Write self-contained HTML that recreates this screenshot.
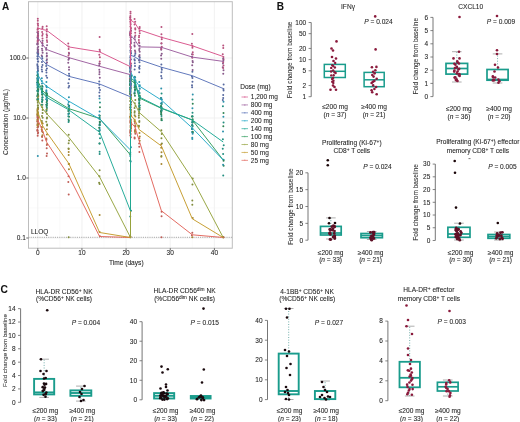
<!DOCTYPE html>
<html><head><meta charset="utf-8"><style>
html,body{margin:0;padding:0;background:#fff;}
svg{display:block;font-family:"Liberation Sans", sans-serif;filter:blur(0.35px);}
text{stroke:#333;stroke-width:0.08px;}
</style></head><body>
<svg width="520" height="422" viewBox="0 0 520 422">
<rect x="28.5" y="1.7" width="203.8" height="246.5" fill="#fff"/>
<line x1="59.88" y1="1.70" x2="59.88" y2="248.20" stroke="#f6f6f6" stroke-width="0.6" />
<line x1="104.02" y1="1.70" x2="104.02" y2="248.20" stroke="#f6f6f6" stroke-width="0.6" />
<line x1="148.18" y1="1.70" x2="148.18" y2="248.20" stroke="#f6f6f6" stroke-width="0.6" />
<line x1="192.32" y1="1.70" x2="192.32" y2="248.20" stroke="#f6f6f6" stroke-width="0.6" />
<line x1="28.50" y1="208.00" x2="232.30" y2="208.00" stroke="#f6f6f6" stroke-width="0.6" />
<line x1="28.50" y1="148.00" x2="232.30" y2="148.00" stroke="#f6f6f6" stroke-width="0.6" />
<line x1="28.50" y1="88.00" x2="232.30" y2="88.00" stroke="#f6f6f6" stroke-width="0.6" />
<line x1="28.50" y1="28.00" x2="232.30" y2="28.00" stroke="#f6f6f6" stroke-width="0.6" />
<line x1="37.80" y1="1.70" x2="37.80" y2="248.20" stroke="#efefef" stroke-width="0.9" />
<line x1="81.95" y1="1.70" x2="81.95" y2="248.20" stroke="#efefef" stroke-width="0.9" />
<line x1="126.10" y1="1.70" x2="126.10" y2="248.20" stroke="#efefef" stroke-width="0.9" />
<line x1="170.25" y1="1.70" x2="170.25" y2="248.20" stroke="#efefef" stroke-width="0.9" />
<line x1="214.40" y1="1.70" x2="214.40" y2="248.20" stroke="#efefef" stroke-width="0.9" />
<line x1="28.50" y1="238.00" x2="232.30" y2="238.00" stroke="#efefef" stroke-width="0.9" />
<line x1="28.50" y1="178.00" x2="232.30" y2="178.00" stroke="#efefef" stroke-width="0.9" />
<line x1="28.50" y1="118.00" x2="232.30" y2="118.00" stroke="#efefef" stroke-width="0.9" />
<line x1="28.50" y1="58.00" x2="232.30" y2="58.00" stroke="#efefef" stroke-width="0.9" />
<line x1="28.50" y1="237.30" x2="232.30" y2="237.30" stroke="#888" stroke-width="0.8" stroke-dasharray="1,1.2"/>
<text x="31.0" y="233.5" font-size="6.5" text-anchor="start" fill="#222" >LLOQ</text>
<circle cx="161.22" cy="88.51" r="1.0" fill="#2c92ab"/>
<circle cx="130.93" cy="147.22" r="1.0" fill="#2c92ab"/>
<circle cx="139.59" cy="31.09" r="1.0" fill="#b8527d"/>
<circle cx="135.32" cy="35.55" r="1.0" fill="#b8527d"/>
<circle cx="37.88" cy="69.02" r="1.0" fill="#56689e"/>
<circle cx="135.19" cy="86.51" r="1.0" fill="#2c92ab"/>
<circle cx="42.37" cy="28.22" r="1.0" fill="#b8527d"/>
<circle cx="99.37" cy="92.42" r="1.0" fill="#56689e"/>
<circle cx="69.16" cy="79.28" r="1.0" fill="#56689e"/>
<circle cx="139.34" cy="100.38" r="1.0" fill="#308453"/>
<circle cx="139.84" cy="98.84" r="1.0" fill="#2c92ab"/>
<circle cx="130.63" cy="79.90" r="1.0" fill="#895a8b"/>
<circle cx="191.87" cy="116.55" r="1.0" fill="#308453"/>
<circle cx="134.46" cy="45.28" r="1.0" fill="#895a8b"/>
<circle cx="130.31" cy="89.13" r="1.0" fill="#308453"/>
<circle cx="223.45" cy="89.07" r="1.0" fill="#56689e"/>
<circle cx="135.26" cy="126.36" r="1.0" fill="#a78731"/>
<circle cx="42.69" cy="33.98" r="1.0" fill="#b8527d"/>
<circle cx="38.25" cy="99.09" r="1.0" fill="#238f81"/>
<circle cx="130.04" cy="79.04" r="1.0" fill="#2c92ab"/>
<circle cx="131.00" cy="65.40" r="1.0" fill="#56689e"/>
<circle cx="37.77" cy="102.72" r="1.0" fill="#818c3e"/>
<circle cx="99.44" cy="125.35" r="1.0" fill="#2c92ab"/>
<circle cx="138.99" cy="60.31" r="1.0" fill="#56689e"/>
<circle cx="130.26" cy="21.59" r="1.0" fill="#b8527d"/>
<circle cx="192.32" cy="34.00" r="1.0" fill="#b8527d"/>
<circle cx="41.78" cy="127.55" r="1.0" fill="#bf5e57"/>
<circle cx="69.03" cy="69.87" r="1.0" fill="#895a8b"/>
<circle cx="139.32" cy="56.57" r="1.0" fill="#56689e"/>
<circle cx="161.42" cy="164.00" r="1.0" fill="#a78731"/>
<circle cx="134.52" cy="93.49" r="1.0" fill="#238f81"/>
<circle cx="130.48" cy="90.16" r="1.0" fill="#308453"/>
<circle cx="46.63" cy="106.72" r="1.0" fill="#238f81"/>
<circle cx="130.21" cy="93.61" r="1.0" fill="#308453"/>
<circle cx="223.20" cy="94.99" r="1.0" fill="#56689e"/>
<circle cx="222.86" cy="139.14" r="1.0" fill="#238f81"/>
<circle cx="42.59" cy="100.07" r="1.0" fill="#308453"/>
<circle cx="161.42" cy="237.30" r="1.0" fill="#bf5e57"/>
<circle cx="130.22" cy="93.83" r="1.0" fill="#238f81"/>
<circle cx="134.85" cy="131.06" r="1.0" fill="#bf5e57"/>
<circle cx="46.96" cy="107.98" r="1.0" fill="#308453"/>
<circle cx="46.57" cy="60.41" r="1.0" fill="#56689e"/>
<circle cx="99.37" cy="74.34" r="1.0" fill="#895a8b"/>
<circle cx="99.36" cy="130.97" r="1.0" fill="#308453"/>
<circle cx="99.27" cy="81.51" r="1.0" fill="#56689e"/>
<circle cx="42.37" cy="97.57" r="1.0" fill="#308453"/>
<circle cx="134.63" cy="69.39" r="1.0" fill="#56689e"/>
<circle cx="130.20" cy="93.17" r="1.0" fill="#56689e"/>
<circle cx="161.63" cy="109.25" r="1.0" fill="#308453"/>
<circle cx="46.35" cy="90.30" r="1.0" fill="#2c92ab"/>
<circle cx="99.76" cy="121.73" r="1.0" fill="#308453"/>
<circle cx="222.84" cy="99.95" r="1.0" fill="#56689e"/>
<circle cx="68.70" cy="149.00" r="1.0" fill="#a78731"/>
<circle cx="139.17" cy="49.97" r="1.0" fill="#895a8b"/>
<circle cx="192.49" cy="121.63" r="1.0" fill="#2c92ab"/>
<circle cx="192.26" cy="137.64" r="1.0" fill="#2c92ab"/>
<circle cx="130.92" cy="119.97" r="1.0" fill="#a78731"/>
<circle cx="69.10" cy="105.77" r="1.0" fill="#308453"/>
<circle cx="99.94" cy="102.44" r="1.0" fill="#238f81"/>
<circle cx="37.71" cy="43.77" r="1.0" fill="#b8527d"/>
<circle cx="42.24" cy="91.47" r="1.0" fill="#2c92ab"/>
<circle cx="161.22" cy="49.68" r="1.0" fill="#895a8b"/>
<circle cx="37.54" cy="82.59" r="1.0" fill="#308453"/>
<circle cx="38.10" cy="108.02" r="1.0" fill="#a78731"/>
<circle cx="99.43" cy="96.01" r="1.0" fill="#56689e"/>
<circle cx="37.66" cy="115.93" r="1.0" fill="#a78731"/>
<circle cx="37.53" cy="29.87" r="1.0" fill="#b8527d"/>
<circle cx="134.78" cy="60.51" r="1.0" fill="#56689e"/>
<circle cx="130.80" cy="30.94" r="1.0" fill="#b8527d"/>
<circle cx="192.52" cy="112.76" r="1.0" fill="#238f81"/>
<circle cx="99.31" cy="69.81" r="1.0" fill="#895a8b"/>
<circle cx="99.61" cy="151.80" r="1.0" fill="#238f81"/>
<circle cx="38.13" cy="123.22" r="1.0" fill="#bf5e57"/>
<circle cx="135.33" cy="53.81" r="1.0" fill="#56689e"/>
<circle cx="37.80" cy="94.58" r="1.0" fill="#308453"/>
<circle cx="139.41" cy="151.99" r="1.0" fill="#bf5e57"/>
<circle cx="223.08" cy="237.30" r="1.0" fill="#818c3e"/>
<circle cx="42.41" cy="135.37" r="1.0" fill="#a78731"/>
<circle cx="161.16" cy="76.01" r="1.0" fill="#56689e"/>
<circle cx="38.04" cy="76.77" r="1.0" fill="#308453"/>
<circle cx="130.82" cy="112.44" r="1.0" fill="#818c3e"/>
<circle cx="46.95" cy="59.35" r="1.0" fill="#895a8b"/>
<circle cx="161.42" cy="34.28" r="1.0" fill="#b8527d"/>
<circle cx="192.43" cy="47.86" r="1.0" fill="#b8527d"/>
<circle cx="46.27" cy="75.63" r="1.0" fill="#56689e"/>
<circle cx="139.73" cy="33.15" r="1.0" fill="#b8527d"/>
<circle cx="38.06" cy="91.78" r="1.0" fill="#238f81"/>
<circle cx="37.86" cy="61.51" r="1.0" fill="#56689e"/>
<circle cx="37.85" cy="71.16" r="1.0" fill="#2c92ab"/>
<circle cx="37.81" cy="112.02" r="1.0" fill="#818c3e"/>
<circle cx="46.76" cy="53.26" r="1.0" fill="#895a8b"/>
<circle cx="42.60" cy="86.64" r="1.0" fill="#2c92ab"/>
<circle cx="192.32" cy="204.80" r="1.0" fill="#818c3e"/>
<circle cx="46.58" cy="93.87" r="1.0" fill="#2c92ab"/>
<circle cx="130.24" cy="69.75" r="1.0" fill="#2c92ab"/>
<circle cx="46.41" cy="81.95" r="1.0" fill="#2c92ab"/>
<circle cx="139.74" cy="96.34" r="1.0" fill="#308453"/>
<circle cx="130.63" cy="88.32" r="1.0" fill="#238f81"/>
<circle cx="130.84" cy="27.89" r="1.0" fill="#b8527d"/>
<circle cx="130.93" cy="102.57" r="1.0" fill="#818c3e"/>
<circle cx="223.50" cy="112.97" r="1.0" fill="#308453"/>
<circle cx="135.31" cy="51.97" r="1.0" fill="#895a8b"/>
<circle cx="139.28" cy="56.36" r="1.0" fill="#895a8b"/>
<circle cx="38.17" cy="117.13" r="1.0" fill="#a78731"/>
<circle cx="42.15" cy="71.47" r="1.0" fill="#56689e"/>
<circle cx="139.48" cy="62.27" r="1.0" fill="#56689e"/>
<circle cx="139.19" cy="105.16" r="1.0" fill="#308453"/>
<circle cx="130.03" cy="71.53" r="1.0" fill="#2c92ab"/>
<circle cx="99.99" cy="138.26" r="1.0" fill="#238f81"/>
<circle cx="134.62" cy="92.21" r="1.0" fill="#2c92ab"/>
<circle cx="223.23" cy="45.50" r="1.0" fill="#b8527d"/>
<circle cx="130.91" cy="101.66" r="1.0" fill="#56689e"/>
<circle cx="192.46" cy="184.61" r="1.0" fill="#818c3e"/>
<circle cx="135.24" cy="125.31" r="1.0" fill="#a78731"/>
<circle cx="134.77" cy="103.26" r="1.0" fill="#818c3e"/>
<circle cx="130.40" cy="76.61" r="1.0" fill="#308453"/>
<circle cx="161.30" cy="106.43" r="1.0" fill="#2c92ab"/>
<circle cx="134.63" cy="115.32" r="1.0" fill="#818c3e"/>
<circle cx="130.27" cy="81.32" r="1.0" fill="#308453"/>
<circle cx="161.51" cy="118.40" r="1.0" fill="#308453"/>
<circle cx="68.70" cy="194.50" r="1.0" fill="#bf5e57"/>
<circle cx="223.71" cy="145.14" r="1.0" fill="#238f81"/>
<circle cx="223.36" cy="56.94" r="1.0" fill="#b8527d"/>
<circle cx="42.30" cy="140.58" r="1.0" fill="#bf5e57"/>
<circle cx="37.46" cy="78.49" r="1.0" fill="#308453"/>
<circle cx="69.02" cy="73.76" r="1.0" fill="#56689e"/>
<circle cx="134.66" cy="138.57" r="1.0" fill="#bf5e57"/>
<circle cx="139.69" cy="107.76" r="1.0" fill="#308453"/>
<circle cx="130.78" cy="59.45" r="1.0" fill="#56689e"/>
<circle cx="37.74" cy="115.00" r="1.0" fill="#818c3e"/>
<circle cx="42.23" cy="42.60" r="1.0" fill="#b8527d"/>
<circle cx="99.83" cy="77.87" r="1.0" fill="#895a8b"/>
<circle cx="130.12" cy="87.67" r="1.0" fill="#238f81"/>
<circle cx="161.78" cy="37.38" r="1.0" fill="#b8527d"/>
<circle cx="130.94" cy="83.81" r="1.0" fill="#2c92ab"/>
<circle cx="47.13" cy="77.69" r="1.0" fill="#56689e"/>
<circle cx="68.49" cy="176.16" r="1.0" fill="#bf5e57"/>
<circle cx="68.24" cy="62.82" r="1.0" fill="#895a8b"/>
<circle cx="38.30" cy="89.99" r="1.0" fill="#2c92ab"/>
<circle cx="99.74" cy="61.52" r="1.0" fill="#b8527d"/>
<circle cx="135.01" cy="66.09" r="1.0" fill="#56689e"/>
<circle cx="139.84" cy="105.60" r="1.0" fill="#238f81"/>
<circle cx="222.76" cy="54.30" r="1.0" fill="#b8527d"/>
<circle cx="135.38" cy="116.59" r="1.0" fill="#a78731"/>
<circle cx="223.62" cy="84.60" r="1.0" fill="#56689e"/>
<circle cx="161.25" cy="58.80" r="1.0" fill="#895a8b"/>
<circle cx="130.28" cy="154.15" r="1.0" fill="#308453"/>
<circle cx="68.70" cy="237.30" r="1.0" fill="#818c3e"/>
<circle cx="161.55" cy="93.57" r="1.0" fill="#238f81"/>
<circle cx="47.08" cy="125.41" r="1.0" fill="#818c3e"/>
<circle cx="130.28" cy="57.62" r="1.0" fill="#56689e"/>
<circle cx="160.97" cy="106.60" r="1.0" fill="#238f81"/>
<circle cx="46.51" cy="72.48" r="1.0" fill="#56689e"/>
<circle cx="134.76" cy="76.81" r="1.0" fill="#238f81"/>
<circle cx="46.19" cy="95.77" r="1.0" fill="#238f81"/>
<circle cx="223.39" cy="116.74" r="1.0" fill="#2c92ab"/>
<circle cx="41.92" cy="131.07" r="1.0" fill="#bf5e57"/>
<circle cx="130.67" cy="73.89" r="1.0" fill="#238f81"/>
<circle cx="130.96" cy="43.30" r="1.0" fill="#895a8b"/>
<circle cx="130.72" cy="79.00" r="1.0" fill="#2c92ab"/>
<circle cx="68.70" cy="152.00" r="1.0" fill="#a78731"/>
<circle cx="192.62" cy="70.07" r="1.0" fill="#895a8b"/>
<circle cx="46.70" cy="26.13" r="1.0" fill="#b8527d"/>
<circle cx="37.78" cy="124.76" r="1.0" fill="#a78731"/>
<circle cx="130.70" cy="77.93" r="1.0" fill="#308453"/>
<circle cx="38.00" cy="33.27" r="1.0" fill="#b8527d"/>
<circle cx="161.86" cy="99.47" r="1.0" fill="#2c92ab"/>
<circle cx="42.59" cy="112.90" r="1.0" fill="#818c3e"/>
<circle cx="46.90" cy="129.28" r="1.0" fill="#a78731"/>
<circle cx="135.38" cy="89.23" r="1.0" fill="#2c92ab"/>
<circle cx="130.78" cy="133.94" r="1.0" fill="#bf5e57"/>
<circle cx="192.48" cy="99.44" r="1.0" fill="#238f81"/>
<circle cx="68.83" cy="120.72" r="1.0" fill="#308453"/>
<circle cx="130.80" cy="125.94" r="1.0" fill="#a78731"/>
<circle cx="130.44" cy="85.85" r="1.0" fill="#2c92ab"/>
<circle cx="161.43" cy="138.34" r="1.0" fill="#818c3e"/>
<circle cx="139.54" cy="92.95" r="1.0" fill="#238f81"/>
<circle cx="130.31" cy="77.76" r="1.0" fill="#238f81"/>
<circle cx="130.60" cy="68.67" r="1.0" fill="#2c92ab"/>
<circle cx="134.52" cy="42.71" r="1.0" fill="#895a8b"/>
<circle cx="130.71" cy="161.52" r="1.0" fill="#2c92ab"/>
<circle cx="130.22" cy="160.86" r="1.0" fill="#308453"/>
<circle cx="37.73" cy="28.14" r="1.0" fill="#b8527d"/>
<circle cx="134.45" cy="59.23" r="1.0" fill="#56689e"/>
<circle cx="161.34" cy="156.77" r="1.0" fill="#a78731"/>
<circle cx="68.91" cy="97.16" r="1.0" fill="#2c92ab"/>
<circle cx="130.25" cy="216.41" r="1.0" fill="#238f81"/>
<circle cx="41.86" cy="126.99" r="1.0" fill="#a78731"/>
<circle cx="161.35" cy="130.19" r="1.0" fill="#818c3e"/>
<circle cx="68.58" cy="121.93" r="1.0" fill="#238f81"/>
<circle cx="130.09" cy="66.50" r="1.0" fill="#2c92ab"/>
<circle cx="134.67" cy="111.13" r="1.0" fill="#818c3e"/>
<circle cx="38.24" cy="46.76" r="1.0" fill="#895a8b"/>
<circle cx="99.94" cy="107.24" r="1.0" fill="#308453"/>
<circle cx="139.54" cy="28.17" r="1.0" fill="#b8527d"/>
<circle cx="139.24" cy="86.42" r="1.0" fill="#2c92ab"/>
<circle cx="69.06" cy="110.75" r="1.0" fill="#2c92ab"/>
<circle cx="41.85" cy="120.89" r="1.0" fill="#818c3e"/>
<circle cx="47.08" cy="35.75" r="1.0" fill="#b8527d"/>
<circle cx="68.64" cy="143.27" r="1.0" fill="#818c3e"/>
<circle cx="42.13" cy="89.57" r="1.0" fill="#2c92ab"/>
<circle cx="139.42" cy="59.82" r="1.0" fill="#895a8b"/>
<circle cx="38.28" cy="53.36" r="1.0" fill="#895a8b"/>
<circle cx="139.40" cy="120.94" r="1.0" fill="#818c3e"/>
<circle cx="130.37" cy="50.55" r="1.0" fill="#56689e"/>
<circle cx="138.86" cy="117.73" r="1.0" fill="#818c3e"/>
<circle cx="68.50" cy="119.48" r="1.0" fill="#238f81"/>
<circle cx="37.52" cy="87.82" r="1.0" fill="#2c92ab"/>
<circle cx="69.19" cy="75.69" r="1.0" fill="#56689e"/>
<circle cx="46.37" cy="111.62" r="1.0" fill="#818c3e"/>
<circle cx="37.80" cy="20.80" r="1.0" fill="#b8527d"/>
<circle cx="130.26" cy="76.19" r="1.0" fill="#2c92ab"/>
<circle cx="37.32" cy="96.36" r="1.0" fill="#238f81"/>
<circle cx="37.86" cy="105.18" r="1.0" fill="#818c3e"/>
<circle cx="68.21" cy="104.27" r="1.0" fill="#2c92ab"/>
<circle cx="134.98" cy="131.92" r="1.0" fill="#a78731"/>
<circle cx="130.30" cy="130.07" r="1.0" fill="#bf5e57"/>
<circle cx="46.21" cy="104.80" r="1.0" fill="#238f81"/>
<circle cx="42.15" cy="56.68" r="1.0" fill="#56689e"/>
<circle cx="130.38" cy="26.39" r="1.0" fill="#b8527d"/>
<circle cx="37.80" cy="155.90" r="1.0" fill="#2c92ab"/>
<circle cx="130.32" cy="83.86" r="1.0" fill="#308453"/>
<circle cx="37.55" cy="58.97" r="1.0" fill="#56689e"/>
<circle cx="130.51" cy="40.44" r="1.0" fill="#895a8b"/>
<circle cx="130.95" cy="97.02" r="1.0" fill="#56689e"/>
<circle cx="130.33" cy="120.73" r="1.0" fill="#bf5e57"/>
<circle cx="130.26" cy="135.43" r="1.0" fill="#bf5e57"/>
<circle cx="130.28" cy="97.88" r="1.0" fill="#818c3e"/>
<circle cx="99.63" cy="231.95" r="1.0" fill="#a78731"/>
<circle cx="37.48" cy="56.33" r="1.0" fill="#56689e"/>
<circle cx="130.97" cy="33.20" r="1.0" fill="#b8527d"/>
<circle cx="68.41" cy="59.81" r="1.0" fill="#895a8b"/>
<circle cx="130.65" cy="47.04" r="1.0" fill="#895a8b"/>
<circle cx="192.47" cy="81.71" r="1.0" fill="#56689e"/>
<circle cx="130.12" cy="75.61" r="1.0" fill="#238f81"/>
<circle cx="37.81" cy="118.44" r="1.0" fill="#bf5e57"/>
<circle cx="37.94" cy="40.41" r="1.0" fill="#895a8b"/>
<circle cx="130.21" cy="87.89" r="1.0" fill="#2c92ab"/>
<circle cx="161.16" cy="48.07" r="1.0" fill="#895a8b"/>
<circle cx="68.32" cy="182.06" r="1.0" fill="#bf5e57"/>
<circle cx="37.68" cy="58.41" r="1.0" fill="#56689e"/>
<circle cx="37.56" cy="82.03" r="1.0" fill="#2c92ab"/>
<circle cx="130.80" cy="50.92" r="1.0" fill="#895a8b"/>
<circle cx="134.93" cy="50.45" r="1.0" fill="#895a8b"/>
<circle cx="42.49" cy="65.03" r="1.0" fill="#56689e"/>
<circle cx="130.19" cy="60.96" r="1.0" fill="#56689e"/>
<circle cx="37.65" cy="120.28" r="1.0" fill="#a78731"/>
<circle cx="130.32" cy="152.54" r="1.0" fill="#2c92ab"/>
<circle cx="192.01" cy="129.02" r="1.0" fill="#308453"/>
<circle cx="69.04" cy="116.81" r="1.0" fill="#308453"/>
<circle cx="42.04" cy="99.29" r="1.0" fill="#238f81"/>
<circle cx="99.43" cy="176.29" r="1.0" fill="#818c3e"/>
<circle cx="161.42" cy="27.00" r="1.0" fill="#b8527d"/>
<circle cx="99.62" cy="117.52" r="1.0" fill="#238f81"/>
<circle cx="134.98" cy="86.09" r="1.0" fill="#238f81"/>
<circle cx="192.32" cy="128.22" r="1.0" fill="#238f81"/>
<circle cx="46.76" cy="87.33" r="1.0" fill="#2c92ab"/>
<circle cx="68.24" cy="111.06" r="1.0" fill="#308453"/>
<circle cx="37.46" cy="52.27" r="1.0" fill="#56689e"/>
<circle cx="37.75" cy="73.44" r="1.0" fill="#2c92ab"/>
<circle cx="223.49" cy="101.63" r="1.0" fill="#2c92ab"/>
<circle cx="139.78" cy="136.50" r="1.0" fill="#a78731"/>
<circle cx="130.83" cy="71.84" r="1.0" fill="#b8527d"/>
<circle cx="130.95" cy="95.13" r="1.0" fill="#308453"/>
<circle cx="130.49" cy="126.98" r="1.0" fill="#a78731"/>
<circle cx="191.90" cy="43.72" r="1.0" fill="#b8527d"/>
<circle cx="38.21" cy="85.89" r="1.0" fill="#2c92ab"/>
<circle cx="42.55" cy="40.72" r="1.0" fill="#895a8b"/>
<circle cx="160.92" cy="111.44" r="1.0" fill="#2c92ab"/>
<circle cx="130.05" cy="84.28" r="1.0" fill="#2c92ab"/>
<circle cx="37.34" cy="32.24" r="1.0" fill="#895a8b"/>
<circle cx="99.31" cy="130.43" r="1.0" fill="#238f81"/>
<circle cx="41.74" cy="88.44" r="1.0" fill="#308453"/>
<circle cx="192.18" cy="124.56" r="1.0" fill="#2c92ab"/>
<circle cx="134.56" cy="108.04" r="1.0" fill="#818c3e"/>
<circle cx="42.21" cy="88.65" r="1.0" fill="#238f81"/>
<circle cx="130.23" cy="44.69" r="1.0" fill="#895a8b"/>
<circle cx="130.79" cy="99.10" r="1.0" fill="#818c3e"/>
<circle cx="130.50" cy="236.80" r="1.0" fill="#bf5e57"/>
<circle cx="139.78" cy="57.84" r="1.0" fill="#56689e"/>
<circle cx="37.93" cy="94.96" r="1.0" fill="#238f81"/>
<circle cx="192.75" cy="94.50" r="1.0" fill="#2c92ab"/>
<circle cx="37.36" cy="82.39" r="1.0" fill="#238f81"/>
<circle cx="38.20" cy="95.44" r="1.0" fill="#818c3e"/>
<circle cx="41.74" cy="55.50" r="1.0" fill="#895a8b"/>
<circle cx="130.44" cy="109.85" r="1.0" fill="#818c3e"/>
<circle cx="99.61" cy="143.60" r="1.0" fill="#308453"/>
<circle cx="99.87" cy="236.34" r="1.0" fill="#bf5e57"/>
<circle cx="38.14" cy="79.49" r="1.0" fill="#308453"/>
<circle cx="134.66" cy="55.62" r="1.0" fill="#56689e"/>
<circle cx="42.10" cy="31.98" r="1.0" fill="#b8527d"/>
<circle cx="42.11" cy="85.97" r="1.0" fill="#308453"/>
<circle cx="139.04" cy="106.85" r="1.0" fill="#238f81"/>
<circle cx="161.36" cy="64.49" r="1.0" fill="#56689e"/>
<circle cx="37.80" cy="18.80" r="1.0" fill="#b8527d"/>
<circle cx="139.49" cy="68.85" r="1.0" fill="#56689e"/>
<circle cx="99.79" cy="115.75" r="1.0" fill="#308453"/>
<circle cx="37.35" cy="75.25" r="1.0" fill="#2c92ab"/>
<circle cx="41.88" cy="122.44" r="1.0" fill="#a78731"/>
<circle cx="192.31" cy="57.82" r="1.0" fill="#b8527d"/>
<circle cx="139.72" cy="140.82" r="1.0" fill="#a78731"/>
<circle cx="161.21" cy="112.20" r="1.0" fill="#308453"/>
<circle cx="191.99" cy="54.14" r="1.0" fill="#895a8b"/>
<circle cx="38.26" cy="86.60" r="1.0" fill="#308453"/>
<circle cx="38.18" cy="31.82" r="1.0" fill="#b8527d"/>
<circle cx="99.67" cy="63.84" r="1.0" fill="#b8527d"/>
<circle cx="161.54" cy="216.23" r="1.0" fill="#bf5e57"/>
<circle cx="130.41" cy="55.93" r="1.0" fill="#56689e"/>
<circle cx="130.13" cy="91.41" r="1.0" fill="#308453"/>
<circle cx="130.65" cy="67.31" r="1.0" fill="#b8527d"/>
<circle cx="37.33" cy="80.07" r="1.0" fill="#238f81"/>
<circle cx="37.82" cy="40.10" r="1.0" fill="#895a8b"/>
<circle cx="37.46" cy="112.09" r="1.0" fill="#a78731"/>
<circle cx="42.41" cy="104.81" r="1.0" fill="#818c3e"/>
<circle cx="47.01" cy="153.40" r="1.0" fill="#bf5e57"/>
<circle cx="37.74" cy="38.28" r="1.0" fill="#895a8b"/>
<circle cx="191.97" cy="76.58" r="1.0" fill="#56689e"/>
<circle cx="135.36" cy="106.03" r="1.0" fill="#818c3e"/>
<circle cx="130.27" cy="156.01" r="1.0" fill="#2c92ab"/>
<circle cx="223.57" cy="90.51" r="1.0" fill="#56689e"/>
<circle cx="161.74" cy="107.85" r="1.0" fill="#238f81"/>
<circle cx="99.36" cy="133.94" r="1.0" fill="#238f81"/>
<circle cx="99.11" cy="118.48" r="1.0" fill="#308453"/>
<circle cx="135.17" cy="77.38" r="1.0" fill="#2c92ab"/>
<circle cx="41.81" cy="81.04" r="1.0" fill="#2c92ab"/>
<circle cx="42.50" cy="38.46" r="1.0" fill="#b8527d"/>
<circle cx="131.01" cy="53.53" r="1.0" fill="#56689e"/>
<circle cx="130.90" cy="53.14" r="1.0" fill="#56689e"/>
<circle cx="139.05" cy="109.83" r="1.0" fill="#238f81"/>
<circle cx="192.55" cy="61.05" r="1.0" fill="#895a8b"/>
<circle cx="68.95" cy="58.35" r="1.0" fill="#b8527d"/>
<circle cx="192.09" cy="125.50" r="1.0" fill="#308453"/>
<circle cx="38.10" cy="101.03" r="1.0" fill="#818c3e"/>
<circle cx="68.90" cy="52.74" r="1.0" fill="#b8527d"/>
<circle cx="38.01" cy="40.04" r="1.0" fill="#b8527d"/>
<circle cx="37.61" cy="68.08" r="1.0" fill="#56689e"/>
<circle cx="131.00" cy="115.20" r="1.0" fill="#a78731"/>
<circle cx="223.52" cy="70.20" r="1.0" fill="#895a8b"/>
<circle cx="139.49" cy="132.89" r="1.0" fill="#a78731"/>
<circle cx="130.51" cy="37.38" r="1.0" fill="#895a8b"/>
<circle cx="160.93" cy="111.05" r="1.0" fill="#308453"/>
<circle cx="37.35" cy="129.73" r="1.0" fill="#bf5e57"/>
<circle cx="68.56" cy="87.43" r="1.0" fill="#56689e"/>
<circle cx="161.04" cy="106.08" r="1.0" fill="#308453"/>
<circle cx="139.15" cy="103.53" r="1.0" fill="#308453"/>
<circle cx="41.89" cy="66.99" r="1.0" fill="#56689e"/>
<circle cx="130.23" cy="31.70" r="1.0" fill="#895a8b"/>
<circle cx="37.75" cy="35.71" r="1.0" fill="#b8527d"/>
<circle cx="47.12" cy="103.79" r="1.0" fill="#238f81"/>
<circle cx="130.85" cy="30.76" r="1.0" fill="#b8527d"/>
<circle cx="47.03" cy="117.54" r="1.0" fill="#818c3e"/>
<circle cx="130.52" cy="76.53" r="1.0" fill="#895a8b"/>
<circle cx="37.76" cy="42.02" r="1.0" fill="#b8527d"/>
<circle cx="161.90" cy="143.43" r="1.0" fill="#818c3e"/>
<circle cx="130.99" cy="97.90" r="1.0" fill="#818c3e"/>
<circle cx="37.83" cy="97.98" r="1.0" fill="#818c3e"/>
<circle cx="42.49" cy="97.15" r="1.0" fill="#238f81"/>
<circle cx="130.80" cy="104.24" r="1.0" fill="#56689e"/>
<circle cx="130.06" cy="62.91" r="1.0" fill="#56689e"/>
<circle cx="192.38" cy="71.72" r="1.0" fill="#56689e"/>
<circle cx="46.96" cy="105.13" r="1.0" fill="#308453"/>
<circle cx="99.89" cy="57.16" r="1.0" fill="#b8527d"/>
<circle cx="134.59" cy="112.86" r="1.0" fill="#818c3e"/>
<circle cx="37.67" cy="118.05" r="1.0" fill="#bf5e57"/>
<circle cx="37.44" cy="90.42" r="1.0" fill="#2c92ab"/>
<circle cx="37.43" cy="77.88" r="1.0" fill="#2c92ab"/>
<circle cx="139.32" cy="122.10" r="1.0" fill="#818c3e"/>
<circle cx="139.26" cy="82.07" r="1.0" fill="#2c92ab"/>
<circle cx="139.41" cy="100.00" r="1.0" fill="#238f81"/>
<circle cx="160.96" cy="98.11" r="1.0" fill="#308453"/>
<circle cx="38.05" cy="33.80" r="1.0" fill="#895a8b"/>
<circle cx="223.64" cy="165.66" r="1.0" fill="#308453"/>
<circle cx="130.60" cy="82.32" r="1.0" fill="#238f81"/>
<circle cx="134.79" cy="63.28" r="1.0" fill="#56689e"/>
<circle cx="38.04" cy="25.78" r="1.0" fill="#b8527d"/>
<circle cx="139.11" cy="35.64" r="1.0" fill="#b8527d"/>
<circle cx="68.70" cy="155.00" r="1.0" fill="#a78731"/>
<circle cx="192.79" cy="132.61" r="1.0" fill="#238f81"/>
<circle cx="130.79" cy="84.94" r="1.0" fill="#238f81"/>
<circle cx="37.52" cy="123.97" r="1.0" fill="#bf5e57"/>
<circle cx="135.29" cy="129.57" r="1.0" fill="#bf5e57"/>
<circle cx="134.58" cy="24.62" r="1.0" fill="#b8527d"/>
<circle cx="134.53" cy="87.20" r="1.0" fill="#238f81"/>
<circle cx="37.55" cy="41.08" r="1.0" fill="#b8527d"/>
<circle cx="223.23" cy="48.00" r="1.0" fill="#b8527d"/>
<circle cx="135.29" cy="99.92" r="1.0" fill="#818c3e"/>
<circle cx="192.81" cy="54.46" r="1.0" fill="#b8527d"/>
<circle cx="192.43" cy="78.10" r="1.0" fill="#56689e"/>
<circle cx="160.95" cy="103.59" r="1.0" fill="#2c92ab"/>
<circle cx="37.85" cy="89.37" r="1.0" fill="#308453"/>
<circle cx="134.94" cy="95.85" r="1.0" fill="#308453"/>
<circle cx="192.03" cy="131.93" r="1.0" fill="#2c92ab"/>
<circle cx="134.74" cy="82.87" r="1.0" fill="#2c92ab"/>
<circle cx="130.96" cy="124.70" r="1.0" fill="#bf5e57"/>
<circle cx="161.76" cy="53.71" r="1.0" fill="#895a8b"/>
<circle cx="161.83" cy="120.28" r="1.0" fill="#238f81"/>
<circle cx="68.54" cy="148.48" r="1.0" fill="#818c3e"/>
<circle cx="37.60" cy="82.74" r="1.0" fill="#2c92ab"/>
<circle cx="130.49" cy="121.76" r="1.0" fill="#a78731"/>
<circle cx="68.68" cy="101.89" r="1.0" fill="#2c92ab"/>
<circle cx="139.82" cy="88.80" r="1.0" fill="#2c92ab"/>
<circle cx="161.42" cy="156.00" r="1.0" fill="#818c3e"/>
<circle cx="46.26" cy="86.01" r="1.0" fill="#2c92ab"/>
<circle cx="99.44" cy="143.61" r="1.0" fill="#238f81"/>
<circle cx="130.41" cy="131.47" r="1.0" fill="#a78731"/>
<circle cx="68.33" cy="116.13" r="1.0" fill="#238f81"/>
<circle cx="42.25" cy="107.26" r="1.0" fill="#818c3e"/>
<circle cx="38.02" cy="89.60" r="1.0" fill="#238f81"/>
<circle cx="130.71" cy="87.77" r="1.0" fill="#308453"/>
<circle cx="37.98" cy="34.78" r="1.0" fill="#b8527d"/>
<circle cx="42.05" cy="93.97" r="1.0" fill="#2c92ab"/>
<circle cx="134.88" cy="122.95" r="1.0" fill="#bf5e57"/>
<circle cx="99.61" cy="183.90" r="1.0" fill="#818c3e"/>
<circle cx="41.97" cy="83.41" r="1.0" fill="#2c92ab"/>
<circle cx="130.68" cy="122.94" r="1.0" fill="#a78731"/>
<circle cx="161.08" cy="55.61" r="1.0" fill="#895a8b"/>
<circle cx="139.24" cy="93.00" r="1.0" fill="#2c92ab"/>
<circle cx="161.13" cy="144.40" r="1.0" fill="#a78731"/>
<circle cx="130.57" cy="52.37" r="1.0" fill="#56689e"/>
<circle cx="69.07" cy="53.73" r="1.0" fill="#895a8b"/>
<circle cx="99.61" cy="154.00" r="1.0" fill="#238f81"/>
<circle cx="37.42" cy="121.85" r="1.0" fill="#a78731"/>
<circle cx="222.76" cy="67.18" r="1.0" fill="#895a8b"/>
<circle cx="41.95" cy="61.91" r="1.0" fill="#56689e"/>
<circle cx="42.66" cy="109.88" r="1.0" fill="#818c3e"/>
<circle cx="135.09" cy="130.60" r="1.0" fill="#a78731"/>
<circle cx="99.40" cy="63.56" r="1.0" fill="#895a8b"/>
<circle cx="223.23" cy="237.30" r="1.0" fill="#a78731"/>
<circle cx="46.28" cy="92.59" r="1.0" fill="#308453"/>
<circle cx="139.15" cy="108.85" r="1.0" fill="#818c3e"/>
<circle cx="130.24" cy="116.47" r="1.0" fill="#a78731"/>
<circle cx="192.75" cy="126.04" r="1.0" fill="#238f81"/>
<circle cx="161.34" cy="49.05" r="1.0" fill="#b8527d"/>
<circle cx="139.13" cy="95.69" r="1.0" fill="#238f81"/>
<circle cx="130.49" cy="22.98" r="1.0" fill="#b8527d"/>
<circle cx="37.45" cy="114.92" r="1.0" fill="#bf5e57"/>
<circle cx="134.63" cy="82.55" r="1.0" fill="#238f81"/>
<circle cx="38.29" cy="124.17" r="1.0" fill="#a78731"/>
<circle cx="134.70" cy="82.26" r="1.0" fill="#308453"/>
<circle cx="130.95" cy="109.97" r="1.0" fill="#818c3e"/>
<circle cx="130.47" cy="94.56" r="1.0" fill="#308453"/>
<circle cx="68.88" cy="110.04" r="1.0" fill="#238f81"/>
<circle cx="46.94" cy="101.09" r="1.0" fill="#308453"/>
<circle cx="38.25" cy="126.33" r="1.0" fill="#bf5e57"/>
<circle cx="99.79" cy="119.04" r="1.0" fill="#2c92ab"/>
<circle cx="99.61" cy="111.54" r="1.0" fill="#2c92ab"/>
<circle cx="37.72" cy="37.32" r="1.0" fill="#b8527d"/>
<circle cx="130.80" cy="48.34" r="1.0" fill="#895a8b"/>
<circle cx="130.83" cy="75.92" r="1.0" fill="#238f81"/>
<circle cx="37.52" cy="53.55" r="1.0" fill="#56689e"/>
<circle cx="46.65" cy="34.33" r="1.0" fill="#b8527d"/>
<circle cx="37.80" cy="93.77" r="1.0" fill="#308453"/>
<circle cx="161.65" cy="68.07" r="1.0" fill="#56689e"/>
<circle cx="130.85" cy="42.12" r="1.0" fill="#895a8b"/>
<circle cx="134.58" cy="137.56" r="1.0" fill="#bf5e57"/>
<circle cx="99.61" cy="170.30" r="1.0" fill="#818c3e"/>
<circle cx="130.51" cy="46.87" r="1.0" fill="#895a8b"/>
<circle cx="161.81" cy="102.42" r="1.0" fill="#2c92ab"/>
<circle cx="42.04" cy="101.99" r="1.0" fill="#308453"/>
<circle cx="139.02" cy="113.73" r="1.0" fill="#818c3e"/>
<circle cx="38.05" cy="28.82" r="1.0" fill="#b8527d"/>
<circle cx="38.20" cy="86.52" r="1.0" fill="#238f81"/>
<circle cx="37.82" cy="105.73" r="1.0" fill="#818c3e"/>
<circle cx="223.50" cy="65.55" r="1.0" fill="#b8527d"/>
<circle cx="130.02" cy="67.45" r="1.0" fill="#56689e"/>
<circle cx="130.20" cy="19.18" r="1.0" fill="#b8527d"/>
<circle cx="130.74" cy="19.68" r="1.0" fill="#b8527d"/>
<circle cx="68.60" cy="46.45" r="1.0" fill="#b8527d"/>
<circle cx="130.19" cy="34.96" r="1.0" fill="#895a8b"/>
<circle cx="130.49" cy="76.14" r="1.0" fill="#2c92ab"/>
<circle cx="41.79" cy="104.78" r="1.0" fill="#238f81"/>
<circle cx="161.08" cy="113.92" r="1.0" fill="#238f81"/>
<circle cx="99.32" cy="54.68" r="1.0" fill="#b8527d"/>
<circle cx="69.14" cy="85.88" r="1.0" fill="#56689e"/>
<circle cx="130.51" cy="11.80" r="1.0" fill="#b8527d"/>
<circle cx="41.74" cy="129.59" r="1.0" fill="#a78731"/>
<circle cx="222.94" cy="63.61" r="1.0" fill="#895a8b"/>
<circle cx="130.63" cy="79.86" r="1.0" fill="#308453"/>
<circle cx="46.85" cy="29.26" r="1.0" fill="#b8527d"/>
<circle cx="68.57" cy="113.87" r="1.0" fill="#308453"/>
<circle cx="130.53" cy="94.87" r="1.0" fill="#818c3e"/>
<circle cx="192.32" cy="200.50" r="1.0" fill="#818c3e"/>
<circle cx="130.03" cy="84.86" r="1.0" fill="#308453"/>
<circle cx="37.86" cy="107.99" r="1.0" fill="#818c3e"/>
<circle cx="42.02" cy="48.64" r="1.0" fill="#895a8b"/>
<circle cx="46.58" cy="110.19" r="1.0" fill="#238f81"/>
<circle cx="130.72" cy="106.92" r="1.0" fill="#818c3e"/>
<circle cx="46.27" cy="121.80" r="1.0" fill="#818c3e"/>
<circle cx="130.20" cy="79.26" r="1.0" fill="#238f81"/>
<circle cx="37.94" cy="74.83" r="1.0" fill="#2c92ab"/>
<circle cx="37.81" cy="115.75" r="1.0" fill="#818c3e"/>
<circle cx="38.12" cy="132.44" r="1.0" fill="#bf5e57"/>
<circle cx="161.70" cy="78.32" r="1.0" fill="#56689e"/>
<circle cx="37.32" cy="99.37" r="1.0" fill="#818c3e"/>
<circle cx="37.66" cy="90.74" r="1.0" fill="#308453"/>
<circle cx="37.56" cy="95.53" r="1.0" fill="#308453"/>
<circle cx="38.06" cy="112.95" r="1.0" fill="#818c3e"/>
<circle cx="37.57" cy="37.25" r="1.0" fill="#895a8b"/>
<circle cx="134.98" cy="90.43" r="1.0" fill="#238f81"/>
<circle cx="46.97" cy="95.21" r="1.0" fill="#308453"/>
<circle cx="37.56" cy="127.21" r="1.0" fill="#a78731"/>
<circle cx="161.82" cy="104.01" r="1.0" fill="#238f81"/>
<circle cx="192.76" cy="122.57" r="1.0" fill="#308453"/>
<circle cx="68.90" cy="108.97" r="1.0" fill="#308453"/>
<circle cx="139.73" cy="96.92" r="1.0" fill="#2c92ab"/>
<circle cx="37.32" cy="44.34" r="1.0" fill="#895a8b"/>
<circle cx="130.59" cy="119.15" r="1.0" fill="#bf5e57"/>
<circle cx="130.27" cy="35.84" r="1.0" fill="#b8527d"/>
<circle cx="138.86" cy="126.71" r="1.0" fill="#a78731"/>
<circle cx="135.32" cy="29.41" r="1.0" fill="#b8527d"/>
<circle cx="37.40" cy="125.35" r="1.0" fill="#a78731"/>
<circle cx="223.17" cy="67.92" r="1.0" fill="#b8527d"/>
<circle cx="161.21" cy="147.75" r="1.0" fill="#a78731"/>
<circle cx="139.60" cy="45.84" r="1.0" fill="#895a8b"/>
<circle cx="223.23" cy="73.79" r="1.0" fill="#895a8b"/>
<circle cx="99.66" cy="127.91" r="1.0" fill="#2c92ab"/>
<circle cx="130.27" cy="81.97" r="1.0" fill="#2c92ab"/>
<circle cx="130.37" cy="15.94" r="1.0" fill="#b8527d"/>
<circle cx="42.67" cy="123.40" r="1.0" fill="#a78731"/>
<circle cx="46.70" cy="148.34" r="1.0" fill="#bf5e57"/>
<circle cx="192.01" cy="56.76" r="1.0" fill="#895a8b"/>
<circle cx="46.72" cy="56.51" r="1.0" fill="#895a8b"/>
<circle cx="46.87" cy="55.52" r="1.0" fill="#895a8b"/>
<circle cx="41.97" cy="115.96" r="1.0" fill="#818c3e"/>
<circle cx="38.11" cy="80.45" r="1.0" fill="#238f81"/>
<circle cx="42.69" cy="132.13" r="1.0" fill="#a78731"/>
<circle cx="46.76" cy="99.16" r="1.0" fill="#308453"/>
<circle cx="130.46" cy="237.30" r="1.0" fill="#818c3e"/>
<circle cx="131.01" cy="128.37" r="1.0" fill="#bf5e57"/>
<circle cx="37.43" cy="75.38" r="1.0" fill="#308453"/>
<circle cx="38.20" cy="61.52" r="1.0" fill="#56689e"/>
<circle cx="37.42" cy="130.76" r="1.0" fill="#bf5e57"/>
<circle cx="46.57" cy="109.47" r="1.0" fill="#818c3e"/>
<circle cx="130.99" cy="75.75" r="1.0" fill="#308453"/>
<circle cx="139.63" cy="66.07" r="1.0" fill="#56689e"/>
<circle cx="130.07" cy="107.30" r="1.0" fill="#818c3e"/>
<circle cx="37.92" cy="89.64" r="1.0" fill="#238f81"/>
<circle cx="41.82" cy="69.59" r="1.0" fill="#56689e"/>
<circle cx="99.64" cy="49.78" r="1.0" fill="#b8527d"/>
<circle cx="37.48" cy="100.56" r="1.0" fill="#818c3e"/>
<circle cx="42.45" cy="94.53" r="1.0" fill="#238f81"/>
<circle cx="37.52" cy="43.16" r="1.0" fill="#895a8b"/>
<circle cx="130.11" cy="33.70" r="1.0" fill="#895a8b"/>
<circle cx="99.89" cy="130.08" r="1.0" fill="#2c92ab"/>
<circle cx="37.42" cy="65.80" r="1.0" fill="#56689e"/>
<circle cx="134.60" cy="119.81" r="1.0" fill="#a78731"/>
<circle cx="139.26" cy="102.34" r="1.0" fill="#238f81"/>
<circle cx="41.81" cy="78.17" r="1.0" fill="#2c92ab"/>
<circle cx="37.97" cy="82.42" r="1.0" fill="#308453"/>
<circle cx="37.39" cy="121.16" r="1.0" fill="#bf5e57"/>
<circle cx="68.45" cy="114.04" r="1.0" fill="#2c92ab"/>
<circle cx="130.87" cy="28.28" r="1.0" fill="#b8527d"/>
<circle cx="130.80" cy="127.18" r="1.0" fill="#a78731"/>
<circle cx="191.88" cy="235.15" r="1.0" fill="#bf5e57"/>
<circle cx="46.17" cy="63.50" r="1.0" fill="#56689e"/>
<circle cx="130.59" cy="59.36" r="1.0" fill="#56689e"/>
<circle cx="134.95" cy="89.35" r="1.0" fill="#308453"/>
<circle cx="135.31" cy="133.79" r="1.0" fill="#bf5e57"/>
<circle cx="42.44" cy="45.80" r="1.0" fill="#895a8b"/>
<circle cx="37.70" cy="108.41" r="1.0" fill="#a78731"/>
<circle cx="139.79" cy="85.21" r="1.0" fill="#2c92ab"/>
<circle cx="135.38" cy="84.35" r="1.0" fill="#308453"/>
<circle cx="130.48" cy="131.17" r="1.0" fill="#bf5e57"/>
<circle cx="130.87" cy="112.69" r="1.0" fill="#818c3e"/>
<circle cx="46.65" cy="102.15" r="1.0" fill="#308453"/>
<circle cx="99.18" cy="127.82" r="1.0" fill="#308453"/>
<circle cx="223.65" cy="159.75" r="1.0" fill="#2c92ab"/>
<circle cx="131.00" cy="95.10" r="1.0" fill="#818c3e"/>
<circle cx="161.47" cy="116.03" r="1.0" fill="#238f81"/>
<circle cx="138.86" cy="115.67" r="1.0" fill="#818c3e"/>
<circle cx="42.08" cy="101.28" r="1.0" fill="#238f81"/>
<circle cx="139.31" cy="42.99" r="1.0" fill="#895a8b"/>
<circle cx="130.71" cy="111.14" r="1.0" fill="#a78731"/>
<circle cx="161.38" cy="43.55" r="1.0" fill="#895a8b"/>
<circle cx="192.32" cy="237.30" r="1.0" fill="#a78731"/>
<circle cx="135.01" cy="86.92" r="1.0" fill="#308453"/>
<circle cx="130.46" cy="113.89" r="1.0" fill="#a78731"/>
<circle cx="223.19" cy="237.21" r="1.0" fill="#a78731"/>
<circle cx="46.68" cy="97.59" r="1.0" fill="#238f81"/>
<circle cx="37.45" cy="114.38" r="1.0" fill="#a78731"/>
<circle cx="135.22" cy="28.31" r="1.0" fill="#b8527d"/>
<circle cx="222.78" cy="148.72" r="1.0" fill="#238f81"/>
<circle cx="192.30" cy="139.10" r="1.0" fill="#2c92ab"/>
<circle cx="192.76" cy="52.17" r="1.0" fill="#b8527d"/>
<circle cx="130.72" cy="125.85" r="1.0" fill="#bf5e57"/>
<circle cx="139.11" cy="143.43" r="1.0" fill="#bf5e57"/>
<circle cx="130.68" cy="116.35" r="1.0" fill="#bf5e57"/>
<circle cx="47.11" cy="144.07" r="1.0" fill="#a78731"/>
<circle cx="37.57" cy="87.05" r="1.0" fill="#238f81"/>
<circle cx="134.79" cy="37.04" r="1.0" fill="#895a8b"/>
<circle cx="37.76" cy="23.54" r="1.0" fill="#b8527d"/>
<circle cx="130.69" cy="80.77" r="1.0" fill="#2c92ab"/>
<circle cx="130.68" cy="130.55" r="1.0" fill="#bf5e57"/>
<circle cx="192.32" cy="232.80" r="1.0" fill="#bf5e57"/>
<circle cx="37.58" cy="109.62" r="1.0" fill="#818c3e"/>
<circle cx="68.70" cy="164.00" r="1.0" fill="#a78731"/>
<circle cx="130.81" cy="122.73" r="1.0" fill="#a78731"/>
<circle cx="130.38" cy="88.91" r="1.0" fill="#238f81"/>
<circle cx="130.98" cy="63.45" r="1.0" fill="#b8527d"/>
<circle cx="139.55" cy="95.40" r="1.0" fill="#308453"/>
<circle cx="42.24" cy="94.67" r="1.0" fill="#308453"/>
<circle cx="223.20" cy="62.23" r="1.0" fill="#b8527d"/>
<circle cx="192.79" cy="62.30" r="1.0" fill="#895a8b"/>
<circle cx="46.91" cy="68.44" r="1.0" fill="#56689e"/>
<circle cx="223.23" cy="175.60" r="1.0" fill="#238f81"/>
<circle cx="38.27" cy="89.26" r="1.0" fill="#308453"/>
<circle cx="130.68" cy="125.32" r="1.0" fill="#bf5e57"/>
<circle cx="130.22" cy="117.77" r="1.0" fill="#a78731"/>
<circle cx="46.83" cy="144.94" r="1.0" fill="#bf5e57"/>
<circle cx="130.68" cy="66.65" r="1.0" fill="#56689e"/>
<circle cx="223.54" cy="160.77" r="1.0" fill="#308453"/>
<circle cx="134.64" cy="79.37" r="1.0" fill="#2c92ab"/>
<circle cx="130.61" cy="121.72" r="1.0" fill="#bf5e57"/>
<circle cx="130.34" cy="71.74" r="1.0" fill="#895a8b"/>
<circle cx="134.57" cy="18.99" r="1.0" fill="#b8527d"/>
<circle cx="99.61" cy="37.00" r="1.0" fill="#b8527d"/>
<circle cx="46.91" cy="134.52" r="1.0" fill="#a78731"/>
<circle cx="38.15" cy="54.13" r="1.0" fill="#56689e"/>
<circle cx="223.09" cy="164.79" r="1.0" fill="#2c92ab"/>
<circle cx="134.58" cy="121.18" r="1.0" fill="#a78731"/>
<circle cx="37.34" cy="82.51" r="1.0" fill="#238f81"/>
<circle cx="68.37" cy="83.13" r="1.0" fill="#56689e"/>
<circle cx="135.31" cy="126.46" r="1.0" fill="#bf5e57"/>
<circle cx="47.11" cy="41.92" r="1.0" fill="#b8527d"/>
<circle cx="47.10" cy="124.49" r="1.0" fill="#818c3e"/>
<circle cx="130.27" cy="64.41" r="1.0" fill="#56689e"/>
<circle cx="68.62" cy="106.27" r="1.0" fill="#238f81"/>
<circle cx="161.25" cy="97.96" r="1.0" fill="#2c92ab"/>
<circle cx="37.54" cy="44.45" r="1.0" fill="#895a8b"/>
<circle cx="47.06" cy="45.34" r="1.0" fill="#895a8b"/>
<circle cx="130.65" cy="24.58" r="1.0" fill="#b8527d"/>
<circle cx="38.04" cy="79.32" r="1.0" fill="#2c92ab"/>
<circle cx="139.13" cy="111.99" r="1.0" fill="#818c3e"/>
<circle cx="130.38" cy="116.59" r="1.0" fill="#a78731"/>
<circle cx="192.66" cy="178.49" r="1.0" fill="#818c3e"/>
<circle cx="223.55" cy="122.43" r="1.0" fill="#238f81"/>
<circle cx="161.75" cy="134.04" r="1.0" fill="#818c3e"/>
<circle cx="37.75" cy="85.04" r="1.0" fill="#308453"/>
<circle cx="69.02" cy="67.30" r="1.0" fill="#895a8b"/>
<circle cx="130.55" cy="107.73" r="1.0" fill="#56689e"/>
<circle cx="130.27" cy="17.73" r="1.0" fill="#b8527d"/>
<circle cx="99.83" cy="122.88" r="1.0" fill="#2c92ab"/>
<circle cx="99.61" cy="215.00" r="1.0" fill="#a78731"/>
<circle cx="134.56" cy="93.55" r="1.0" fill="#308453"/>
<circle cx="130.16" cy="68.24" r="1.0" fill="#56689e"/>
<circle cx="46.17" cy="49.68" r="1.0" fill="#895a8b"/>
<circle cx="47.11" cy="100.43" r="1.0" fill="#238f81"/>
<circle cx="99.86" cy="122.10" r="1.0" fill="#308453"/>
<circle cx="37.35" cy="113.71" r="1.0" fill="#a78731"/>
<circle cx="138.90" cy="90.91" r="1.0" fill="#2c92ab"/>
<circle cx="139.20" cy="72.20" r="1.0" fill="#56689e"/>
<circle cx="130.04" cy="237.21" r="1.0" fill="#a78731"/>
<circle cx="161.45" cy="72.29" r="1.0" fill="#56689e"/>
<circle cx="223.12" cy="154.10" r="1.0" fill="#238f81"/>
<circle cx="130.28" cy="17.33" r="1.0" fill="#b8527d"/>
<circle cx="192.51" cy="116.57" r="1.0" fill="#308453"/>
<circle cx="42.65" cy="26.64" r="1.0" fill="#b8527d"/>
<circle cx="161.76" cy="46.63" r="1.0" fill="#b8527d"/>
<circle cx="37.68" cy="91.48" r="1.0" fill="#308453"/>
<circle cx="37.70" cy="56.46" r="1.0" fill="#56689e"/>
<circle cx="46.88" cy="93.42" r="1.0" fill="#238f81"/>
<circle cx="223.51" cy="237.30" r="1.0" fill="#bf5e57"/>
<circle cx="130.99" cy="37.55" r="1.0" fill="#895a8b"/>
<circle cx="68.62" cy="48.93" r="1.0" fill="#b8527d"/>
<circle cx="46.77" cy="31.45" r="1.0" fill="#b8527d"/>
<circle cx="37.76" cy="83.96" r="1.0" fill="#308453"/>
<circle cx="37.58" cy="91.06" r="1.0" fill="#238f81"/>
<circle cx="46.21" cy="66.00" r="1.0" fill="#56689e"/>
<circle cx="223.18" cy="97.98" r="1.0" fill="#56689e"/>
<circle cx="161.82" cy="69.70" r="1.0" fill="#56689e"/>
<circle cx="68.94" cy="169.34" r="1.0" fill="#a78731"/>
<circle cx="139.11" cy="67.38" r="1.0" fill="#56689e"/>
<circle cx="134.66" cy="85.14" r="1.0" fill="#2c92ab"/>
<circle cx="100.03" cy="90.00" r="1.0" fill="#56689e"/>
<circle cx="192.00" cy="85.33" r="1.0" fill="#56689e"/>
<circle cx="161.35" cy="120.12" r="1.0" fill="#308453"/>
<circle cx="46.85" cy="118.53" r="1.0" fill="#818c3e"/>
<circle cx="42.57" cy="43.75" r="1.0" fill="#895a8b"/>
<circle cx="42.66" cy="117.76" r="1.0" fill="#818c3e"/>
<circle cx="37.64" cy="78.32" r="1.0" fill="#2c92ab"/>
<circle cx="130.89" cy="137.31" r="1.0" fill="#bf5e57"/>
<circle cx="69.15" cy="58.43" r="1.0" fill="#895a8b"/>
<circle cx="130.35" cy="92.31" r="1.0" fill="#818c3e"/>
<circle cx="130.46" cy="84.81" r="1.0" fill="#238f81"/>
<circle cx="139.60" cy="109.38" r="1.0" fill="#308453"/>
<circle cx="138.87" cy="99.10" r="1.0" fill="#308453"/>
<circle cx="99.87" cy="125.29" r="1.0" fill="#2c92ab"/>
<circle cx="37.37" cy="116.93" r="1.0" fill="#bf5e57"/>
<circle cx="37.35" cy="72.06" r="1.0" fill="#2c92ab"/>
<circle cx="192.33" cy="119.74" r="1.0" fill="#238f81"/>
<circle cx="99.65" cy="124.51" r="1.0" fill="#308453"/>
<circle cx="130.72" cy="29.97" r="1.0" fill="#895a8b"/>
<circle cx="46.89" cy="40.21" r="1.0" fill="#b8527d"/>
<circle cx="46.63" cy="156.00" r="1.0" fill="#bf5e57"/>
<circle cx="37.56" cy="85.52" r="1.0" fill="#238f81"/>
<circle cx="130.28" cy="85.20" r="1.0" fill="#308453"/>
<circle cx="130.61" cy="91.68" r="1.0" fill="#238f81"/>
<circle cx="47.02" cy="62.51" r="1.0" fill="#895a8b"/>
<circle cx="46.38" cy="91.37" r="1.0" fill="#2c92ab"/>
<circle cx="130.79" cy="86.27" r="1.0" fill="#895a8b"/>
<circle cx="68.69" cy="134.75" r="1.0" fill="#818c3e"/>
<circle cx="138.90" cy="40.01" r="1.0" fill="#b8527d"/>
<circle cx="130.22" cy="34.68" r="1.0" fill="#895a8b"/>
<circle cx="130.48" cy="72.28" r="1.0" fill="#2c92ab"/>
<circle cx="161.76" cy="39.31" r="1.0" fill="#b8527d"/>
<circle cx="138.98" cy="37.24" r="1.0" fill="#b8527d"/>
<circle cx="134.69" cy="46.48" r="1.0" fill="#895a8b"/>
<circle cx="138.99" cy="42.21" r="1.0" fill="#b8527d"/>
<circle cx="192.78" cy="131.75" r="1.0" fill="#308453"/>
<circle cx="37.69" cy="83.89" r="1.0" fill="#2c92ab"/>
<circle cx="130.66" cy="74.94" r="1.0" fill="#2c92ab"/>
<circle cx="37.63" cy="49.74" r="1.0" fill="#895a8b"/>
<circle cx="161.31" cy="114.14" r="1.0" fill="#308453"/>
<circle cx="192.11" cy="122.29" r="1.0" fill="#238f81"/>
<circle cx="37.78" cy="96.29" r="1.0" fill="#238f81"/>
<circle cx="42.33" cy="58.40" r="1.0" fill="#56689e"/>
<circle cx="130.93" cy="78.01" r="1.0" fill="#238f81"/>
<circle cx="139.59" cy="55.10" r="1.0" fill="#895a8b"/>
<circle cx="130.14" cy="100.92" r="1.0" fill="#818c3e"/>
<circle cx="223.37" cy="60.79" r="1.0" fill="#895a8b"/>
<circle cx="161.25" cy="108.85" r="1.0" fill="#2c92ab"/>
<circle cx="161.51" cy="152.23" r="1.0" fill="#a78731"/>
<circle cx="223.59" cy="59.18" r="1.0" fill="#b8527d"/>
<circle cx="130.93" cy="104.72" r="1.0" fill="#818c3e"/>
<circle cx="46.81" cy="37.60" r="1.0" fill="#b8527d"/>
<circle cx="37.34" cy="64.29" r="1.0" fill="#56689e"/>
<circle cx="139.80" cy="97.74" r="1.0" fill="#238f81"/>
<circle cx="42.34" cy="50.50" r="1.0" fill="#895a8b"/>
<circle cx="192.65" cy="133.71" r="1.0" fill="#2c92ab"/>
<circle cx="69.13" cy="106.88" r="1.0" fill="#2c92ab"/>
<circle cx="37.93" cy="109.18" r="1.0" fill="#a78731"/>
<circle cx="130.81" cy="39.71" r="1.0" fill="#895a8b"/>
<circle cx="46.18" cy="70.25" r="1.0" fill="#56689e"/>
<circle cx="130.27" cy="104.71" r="1.0" fill="#818c3e"/>
<circle cx="130.43" cy="81.86" r="1.0" fill="#895a8b"/>
<circle cx="46.15" cy="99.32" r="1.0" fill="#2c92ab"/>
<circle cx="46.98" cy="97.23" r="1.0" fill="#2c92ab"/>
<circle cx="41.90" cy="92.21" r="1.0" fill="#238f81"/>
<circle cx="42.08" cy="136.74" r="1.0" fill="#a78731"/>
<circle cx="134.82" cy="39.16" r="1.0" fill="#895a8b"/>
<circle cx="99.91" cy="51.34" r="1.0" fill="#b8527d"/>
<circle cx="37.90" cy="23.91" r="1.0" fill="#b8527d"/>
<circle cx="222.91" cy="106.36" r="1.0" fill="#238f81"/>
<circle cx="37.37" cy="110.45" r="1.0" fill="#a78731"/>
<circle cx="37.59" cy="130.84" r="1.0" fill="#bf5e57"/>
<circle cx="130.47" cy="122.83" r="1.0" fill="#bf5e57"/>
<circle cx="135.21" cy="32.86" r="1.0" fill="#b8527d"/>
<circle cx="139.26" cy="146.76" r="1.0" fill="#bf5e57"/>
<circle cx="135.40" cy="80.43" r="1.0" fill="#308453"/>
<circle cx="192.44" cy="108.25" r="1.0" fill="#2c92ab"/>
<circle cx="37.92" cy="51.08" r="1.0" fill="#56689e"/>
<circle cx="99.25" cy="87.63" r="1.0" fill="#56689e"/>
<circle cx="130.03" cy="33.09" r="1.0" fill="#b8527d"/>
<circle cx="38.15" cy="35.87" r="1.0" fill="#895a8b"/>
<circle cx="139.69" cy="51.84" r="1.0" fill="#895a8b"/>
<circle cx="37.46" cy="84.46" r="1.0" fill="#2c92ab"/>
<circle cx="69.01" cy="164.01" r="1.0" fill="#a78731"/>
<circle cx="161.48" cy="43.24" r="1.0" fill="#b8527d"/>
<circle cx="46.80" cy="113.87" r="1.0" fill="#818c3e"/>
<circle cx="130.31" cy="74.74" r="1.0" fill="#b8527d"/>
<circle cx="135.21" cy="21.82" r="1.0" fill="#b8527d"/>
<circle cx="191.95" cy="128.91" r="1.0" fill="#2c92ab"/>
<circle cx="139.33" cy="138.22" r="1.0" fill="#bf5e57"/>
<circle cx="138.95" cy="125.84" r="1.0" fill="#818c3e"/>
<circle cx="99.53" cy="98.39" r="1.0" fill="#2c92ab"/>
<circle cx="192.46" cy="46.07" r="1.0" fill="#b8527d"/>
<circle cx="192.45" cy="116.18" r="1.0" fill="#238f81"/>
<circle cx="130.09" cy="80.96" r="1.0" fill="#308453"/>
<circle cx="37.99" cy="51.94" r="1.0" fill="#895a8b"/>
<circle cx="139.68" cy="27.10" r="1.0" fill="#b8527d"/>
<circle cx="192.66" cy="119.20" r="1.0" fill="#308453"/>
<circle cx="42.14" cy="136.81" r="1.0" fill="#bf5e57"/>
<circle cx="223.29" cy="126.23" r="1.0" fill="#308453"/>
<circle cx="38.08" cy="107.54" r="1.0" fill="#818c3e"/>
<circle cx="192.73" cy="103.65" r="1.0" fill="#308453"/>
<circle cx="46.77" cy="94.32" r="1.0" fill="#308453"/>
<circle cx="130.29" cy="109.33" r="1.0" fill="#a78731"/>
<circle cx="38.22" cy="96.47" r="1.0" fill="#818c3e"/>
<circle cx="42.26" cy="35.65" r="1.0" fill="#b8527d"/>
<circle cx="68.47" cy="55.60" r="1.0" fill="#b8527d"/>
<circle cx="37.70" cy="127.58" r="1.0" fill="#bf5e57"/>
<circle cx="37.73" cy="119.75" r="1.0" fill="#bf5e57"/>
<circle cx="130.22" cy="90.11" r="1.0" fill="#238f81"/>
<circle cx="37.67" cy="135.80" r="1.0" fill="#bf5e57"/>
<circle cx="139.49" cy="48.53" r="1.0" fill="#895a8b"/>
<circle cx="69.04" cy="140.43" r="1.0" fill="#818c3e"/>
<circle cx="41.95" cy="91.54" r="1.0" fill="#308453"/>
<circle cx="37.85" cy="66.67" r="1.0" fill="#56689e"/>
<circle cx="223.16" cy="58.87" r="1.0" fill="#895a8b"/>
<circle cx="46.35" cy="138.61" r="1.0" fill="#a78731"/>
<circle cx="130.82" cy="128.84" r="1.0" fill="#a78731"/>
<circle cx="192.13" cy="87.32" r="1.0" fill="#56689e"/>
<circle cx="131.01" cy="210.79" r="1.0" fill="#238f81"/>
<circle cx="223.03" cy="131.41" r="1.0" fill="#2c92ab"/>
<circle cx="37.96" cy="70.38" r="1.0" fill="#56689e"/>
<circle cx="99.13" cy="182.74" r="1.0" fill="#818c3e"/>
<circle cx="37.93" cy="36.40" r="1.0" fill="#b8527d"/>
<circle cx="99.21" cy="65.50" r="1.0" fill="#895a8b"/>
<circle cx="99.53" cy="71.94" r="1.0" fill="#895a8b"/>
<circle cx="37.55" cy="99.30" r="1.0" fill="#238f81"/>
<circle cx="68.26" cy="43.61" r="1.0" fill="#b8527d"/>
<circle cx="37.88" cy="133.54" r="1.0" fill="#bf5e57"/>
<circle cx="37.45" cy="119.65" r="1.0" fill="#a78731"/>
<circle cx="161.80" cy="110.81" r="1.0" fill="#238f81"/>
<circle cx="69.05" cy="113.30" r="1.0" fill="#238f81"/>
<circle cx="130.14" cy="78.50" r="1.0" fill="#b8527d"/>
<circle cx="42.63" cy="52.80" r="1.0" fill="#895a8b"/>
<circle cx="130.39" cy="83.59" r="1.0" fill="#238f81"/>
<circle cx="130.51" cy="13.60" r="1.0" fill="#b8527d"/>
<circle cx="192.74" cy="218.06" r="1.0" fill="#a78731"/>
<circle cx="130.13" cy="132.81" r="1.0" fill="#bf5e57"/>
<circle cx="130.45" cy="70.76" r="1.0" fill="#56689e"/>
<circle cx="38.21" cy="49.80" r="1.0" fill="#895a8b"/>
<circle cx="99.38" cy="84.79" r="1.0" fill="#56689e"/>
<circle cx="161.61" cy="211.71" r="1.0" fill="#bf5e57"/>
<circle cx="46.27" cy="48.06" r="1.0" fill="#895a8b"/>
<circle cx="192.21" cy="65.30" r="1.0" fill="#895a8b"/>
<circle cx="37.63" cy="48.12" r="1.0" fill="#895a8b"/>
<circle cx="134.62" cy="80.71" r="1.0" fill="#238f81"/>
<circle cx="46.43" cy="139.76" r="1.0" fill="#bf5e57"/>
<circle cx="99.26" cy="115.22" r="1.0" fill="#2c92ab"/>
<polyline fill="none" stroke="#e2635a" stroke-width="0.95" points="37.8,120.0 42.2,129.7 46.6,142.1 68.7,175.7 99.6,236.5 130.5,237.5 130.5,122.0 134.9,127.0 139.3,141.0 161.4,210.8 192.3,234.8 223.2,237.5"/>
<polyline fill="none" stroke="#c49a2a" stroke-width="0.95" points="37.8,112.0 42.2,125.0 46.6,132.2 68.7,163.3 99.6,232.5 130.5,237.5 130.5,115.0 134.9,120.0 139.3,129.7 161.4,146.0 192.3,218.8 223.2,237.5"/>
<polyline fill="none" stroke="#94a23c" stroke-width="0.95" points="37.8,100.0 42.2,108.0 46.6,113.6 68.7,137.2 99.6,176.9 130.5,237.5 130.5,98.0 134.9,104.0 139.3,112.6 161.4,131.8 192.3,178.8 223.2,237.5"/>
<polyline fill="none" stroke="#2e9c5c" stroke-width="0.95" points="37.8,81.0 42.2,90.0 46.6,95.0 68.7,108.6 99.6,118.5 130.5,155.0 130.5,80.0 134.9,83.0 139.3,98.0 161.4,108.4 192.3,120.0 223.2,160.0"/>
<polyline fill="none" stroke="#22a8c8" stroke-width="0.95" points="37.8,75.0 42.2,82.0 46.6,86.2 68.7,101.1 99.6,119.0 130.5,150.0 130.5,72.0 134.9,80.0 139.3,86.0 161.4,100.1 192.3,128.0 223.2,160.0"/>
<polyline fill="none" stroke="#1aa895" stroke-width="0.95" points="37.8,84.0 42.2,92.0 46.6,97.4 68.7,109.8 99.6,132.2 130.5,211.0 130.5,78.0 134.9,81.0 139.3,97.0 161.4,108.0 192.3,120.0 223.2,142.0"/>
<polyline fill="none" stroke="#5a72b8" stroke-width="0.95" points="37.8,55.0 42.2,60.0 46.6,64.6 68.7,76.3 99.6,84.0 130.5,96.8 130.5,55.0 134.9,57.0 139.3,59.7 161.4,67.2 192.3,75.7 223.2,88.5"/>
<polyline fill="none" stroke="#9c5e9e" stroke-width="0.95" points="37.8,37.5 42.2,44.0 46.6,49.5 68.7,57.6 99.6,66.3 130.5,74.7 130.5,35.0 134.9,40.0 139.3,46.9 161.4,47.3 192.3,57.1 223.2,61.4"/>
<polyline fill="none" stroke="#d8528a" stroke-width="0.95" points="37.8,28.0 42.2,29.5 46.6,30.3 68.7,46.9 99.6,51.9 130.5,66.7 130.5,20.0 134.9,23.0 139.3,29.9 161.4,37.3 192.3,45.8 223.2,56.5"/>
<rect x="28.5" y="1.7" width="203.8" height="246.5" fill="none" stroke="#bdbdbd" stroke-width="1"/>
<line x1="26.30" y1="58.00" x2="28.50" y2="58.00" stroke="#555" stroke-width="0.9" />
<text x="25.8" y="60.3" font-size="6.5" text-anchor="end" fill="#222" >100.0</text>
<line x1="26.30" y1="118.00" x2="28.50" y2="118.00" stroke="#555" stroke-width="0.9" />
<text x="25.8" y="120.3" font-size="6.5" text-anchor="end" fill="#222" >10.0</text>
<line x1="26.30" y1="178.00" x2="28.50" y2="178.00" stroke="#555" stroke-width="0.9" />
<text x="25.8" y="180.3" font-size="6.5" text-anchor="end" fill="#222" >1.0</text>
<line x1="26.30" y1="238.00" x2="28.50" y2="238.00" stroke="#555" stroke-width="0.9" />
<text x="25.8" y="240.3" font-size="6.5" text-anchor="end" fill="#222" >0.1</text>
<line x1="37.80" y1="248.20" x2="37.80" y2="250.40" stroke="#555" stroke-width="0.9" />
<text x="37.8" y="255.0" font-size="6.5" text-anchor="middle" fill="#222" >0</text>
<line x1="81.95" y1="248.20" x2="81.95" y2="250.40" stroke="#555" stroke-width="0.9" />
<text x="81.9" y="255.0" font-size="6.5" text-anchor="middle" fill="#222" >10</text>
<line x1="126.10" y1="248.20" x2="126.10" y2="250.40" stroke="#555" stroke-width="0.9" />
<text x="126.1" y="255.0" font-size="6.5" text-anchor="middle" fill="#222" >20</text>
<line x1="170.25" y1="248.20" x2="170.25" y2="250.40" stroke="#555" stroke-width="0.9" />
<text x="170.2" y="255.0" font-size="6.5" text-anchor="middle" fill="#222" >30</text>
<line x1="214.40" y1="248.20" x2="214.40" y2="250.40" stroke="#555" stroke-width="0.9" />
<text x="214.4" y="255.0" font-size="6.5" text-anchor="middle" fill="#222" >40</text>
<text x="126.3" y="265.0" font-size="6.6" text-anchor="middle" fill="#222" >Time (days)</text>
<text x="0" y="0" font-size="6.6" text-anchor="middle" fill="#333" transform="translate(7.6,122) rotate(-90)">Concentration (µg/mL)</text>
<text x="2.1" y="9.5" font-size="10" font-weight="bold" fill="#111">A</text>
<text x="240.3" y="89.2" font-size="6.5" text-anchor="start" fill="#222" >Dose (mg)</text>
<line x1="241.50" y1="97.00" x2="248.00" y2="97.00" stroke="#e17da7" stroke-width="0.9" />
<circle cx="244.80" cy="97.00" r="0.75" fill="#e17da7"/>
<text x="250.8" y="99.3" font-size="6.5" text-anchor="start" fill="#222" >1,200 mg</text>
<line x1="241.50" y1="104.92" x2="248.00" y2="104.92" stroke="#b486b6" stroke-width="0.9" />
<circle cx="244.80" cy="104.92" r="0.75" fill="#b486b6"/>
<text x="250.8" y="107.2" font-size="6.5" text-anchor="start" fill="#222" >800 mg</text>
<line x1="241.50" y1="112.84" x2="248.00" y2="112.84" stroke="#8395c9" stroke-width="0.9" />
<circle cx="244.80" cy="112.84" r="0.75" fill="#8395c9"/>
<text x="250.8" y="115.1" font-size="6.5" text-anchor="start" fill="#222" >400 mg</text>
<line x1="241.50" y1="120.76" x2="248.00" y2="120.76" stroke="#59bdd5" stroke-width="0.9" />
<circle cx="244.80" cy="120.76" r="0.75" fill="#59bdd5"/>
<text x="250.8" y="123.1" font-size="6.5" text-anchor="start" fill="#222" >200 mg</text>
<line x1="241.50" y1="128.68" x2="248.00" y2="128.68" stroke="#53bdaf" stroke-width="0.9" />
<circle cx="244.80" cy="128.68" r="0.75" fill="#53bdaf"/>
<text x="250.8" y="131.0" font-size="6.5" text-anchor="start" fill="#222" >140 mg</text>
<line x1="241.50" y1="136.60" x2="248.00" y2="136.60" stroke="#62b484" stroke-width="0.9" />
<circle cx="244.80" cy="136.60" r="0.75" fill="#62b484"/>
<text x="250.8" y="138.9" font-size="6.5" text-anchor="start" fill="#222" >100 mg</text>
<line x1="241.50" y1="144.52" x2="248.00" y2="144.52" stroke="#aeb96c" stroke-width="0.9" />
<circle cx="244.80" cy="144.52" r="0.75" fill="#aeb96c"/>
<text x="250.8" y="146.8" font-size="6.5" text-anchor="start" fill="#222" >80 mg</text>
<line x1="241.50" y1="152.44" x2="248.00" y2="152.44" stroke="#d2b35f" stroke-width="0.9" />
<circle cx="244.80" cy="152.44" r="0.75" fill="#d2b35f"/>
<text x="250.8" y="154.7" font-size="6.5" text-anchor="start" fill="#222" >50 mg</text>
<line x1="241.50" y1="160.36" x2="248.00" y2="160.36" stroke="#e98a83" stroke-width="0.9" />
<circle cx="244.80" cy="160.36" r="0.75" fill="#e98a83"/>
<text x="250.8" y="162.7" font-size="6.5" text-anchor="start" fill="#222" >25 mg</text>
<text x="276.7" y="10.0" font-size="10" font-weight="bold" fill="#111">B</text>
<text x="0.4" y="292.6" font-size="10.2" font-weight="bold" fill="#111">C</text>
<text x="348.0" y="9.3" font-size="6.6" text-anchor="middle" fill="#222" >IFNγ</text>
<line x1="311.20" y1="22.50" x2="311.20" y2="96.70" stroke="#666" stroke-width="0.9" />
<line x1="308.60" y1="22.50" x2="311.20" y2="22.50" stroke="#666" stroke-width="0.8" />
<text x="306.2" y="24.8" font-size="6.5" text-anchor="end" fill="#222" >100</text>
<line x1="308.60" y1="33.67" x2="311.20" y2="33.67" stroke="#666" stroke-width="0.8" />
<text x="306.2" y="36.0" font-size="6.5" text-anchor="end" fill="#222" >50</text>
<line x1="308.60" y1="48.43" x2="311.20" y2="48.43" stroke="#666" stroke-width="0.8" />
<text x="306.2" y="50.7" font-size="6.5" text-anchor="end" fill="#222" >20</text>
<line x1="308.60" y1="59.60" x2="311.20" y2="59.60" stroke="#666" stroke-width="0.8" />
<text x="306.2" y="61.9" font-size="6.5" text-anchor="end" fill="#222" >10</text>
<line x1="308.60" y1="70.77" x2="311.20" y2="70.77" stroke="#666" stroke-width="0.8" />
<text x="306.2" y="73.1" font-size="6.5" text-anchor="end" fill="#222" >5</text>
<line x1="308.60" y1="85.53" x2="311.20" y2="85.53" stroke="#666" stroke-width="0.8" />
<text x="306.2" y="87.8" font-size="6.5" text-anchor="end" fill="#222" >2</text>
<line x1="308.60" y1="96.70" x2="311.20" y2="96.70" stroke="#666" stroke-width="0.8" />
<text x="306.2" y="99.0" font-size="6.5" text-anchor="end" fill="#222" >1</text>
<text x="0" y="0" font-size="6.5" text-anchor="middle" fill="#333" transform="translate(292.3,59.9) rotate(-90)">Fold change from baseline</text>
<rect x="324.30" y="64.40" width="21.00" height="13.10" fill="none" stroke="#1a9c8c" stroke-width="1.5"/>
<line x1="324.30" y1="71.30" x2="345.30" y2="71.30" stroke="#1a9c8c" stroke-width="1.5" />
<rect x="364.10" y="72.40" width="20.10" height="14.30" fill="none" stroke="#1a9c8c" stroke-width="1.5"/>
<line x1="364.10" y1="79.80" x2="384.20" y2="79.80" stroke="#1a9c8c" stroke-width="1.5" />
<circle cx="336.50" cy="41.40" r="1.3" fill="#8a1a3c"/>
<circle cx="331.50" cy="48.50" r="1.3" fill="#8a1a3c"/>
<circle cx="333.00" cy="50.50" r="1.3" fill="#8a1a3c"/>
<circle cx="332.00" cy="57.00" r="1.3" fill="#8a1a3c"/>
<circle cx="336.00" cy="58.50" r="1.3" fill="#8a1a3c"/>
<circle cx="333.50" cy="61.00" r="1.3" fill="#8a1a3c"/>
<circle cx="335.17" cy="63.03" r="1.2" fill="#8a1a3c"/>
<circle cx="332.32" cy="65.27" r="1.2" fill="#8a1a3c"/>
<circle cx="333.26" cy="66.08" r="1.2" fill="#8a1a3c"/>
<circle cx="334.89" cy="67.57" r="1.2" fill="#8a1a3c"/>
<circle cx="331.24" cy="67.91" r="1.2" fill="#8a1a3c"/>
<circle cx="333.18" cy="70.33" r="1.2" fill="#8a1a3c"/>
<circle cx="331.11" cy="71.45" r="1.2" fill="#8a1a3c"/>
<circle cx="334.56" cy="72.18" r="1.2" fill="#8a1a3c"/>
<circle cx="335.64" cy="73.07" r="1.2" fill="#8a1a3c"/>
<circle cx="331.25" cy="75.38" r="1.2" fill="#8a1a3c"/>
<circle cx="333.70" cy="75.21" r="1.2" fill="#8a1a3c"/>
<circle cx="332.93" cy="77.91" r="1.2" fill="#8a1a3c"/>
<circle cx="333.13" cy="77.99" r="1.2" fill="#8a1a3c"/>
<circle cx="332.16" cy="78.92" r="1.2" fill="#8a1a3c"/>
<circle cx="333.48" cy="80.81" r="1.2" fill="#8a1a3c"/>
<circle cx="332.21" cy="81.72" r="1.2" fill="#8a1a3c"/>
<circle cx="333.31" cy="82.93" r="1.2" fill="#8a1a3c"/>
<circle cx="333.00" cy="85.50" r="1.3" fill="#8a1a3c"/>
<circle cx="334.50" cy="87.00" r="1.3" fill="#8a1a3c"/>
<circle cx="330.50" cy="89.80" r="1.3" fill="#8a1a3c"/>
<circle cx="336.00" cy="89.80" r="1.3" fill="#8a1a3c"/>
<circle cx="375.20" cy="16.40" r="1.3" fill="#8a1a3c"/>
<circle cx="375.60" cy="49.40" r="1.3" fill="#8a1a3c"/>
<circle cx="376.43" cy="66.91" r="1.3" fill="#8a1a3c"/>
<circle cx="371.94" cy="67.22" r="1.3" fill="#8a1a3c"/>
<circle cx="375.33" cy="70.22" r="1.3" fill="#8a1a3c"/>
<circle cx="373.10" cy="71.71" r="1.3" fill="#8a1a3c"/>
<circle cx="374.66" cy="73.36" r="1.3" fill="#8a1a3c"/>
<circle cx="372.32" cy="75.07" r="1.3" fill="#8a1a3c"/>
<circle cx="373.55" cy="76.58" r="1.3" fill="#8a1a3c"/>
<circle cx="376.67" cy="78.80" r="1.3" fill="#8a1a3c"/>
<circle cx="374.33" cy="80.92" r="1.3" fill="#8a1a3c"/>
<circle cx="372.89" cy="81.86" r="1.3" fill="#8a1a3c"/>
<circle cx="371.64" cy="82.96" r="1.3" fill="#8a1a3c"/>
<circle cx="373.16" cy="85.40" r="1.3" fill="#8a1a3c"/>
<circle cx="376.14" cy="87.02" r="1.3" fill="#8a1a3c"/>
<circle cx="374.41" cy="89.01" r="1.3" fill="#8a1a3c"/>
<circle cx="371.62" cy="90.30" r="1.3" fill="#8a1a3c"/>
<circle cx="372.21" cy="92.19" r="1.3" fill="#8a1a3c"/>
<circle cx="376.69" cy="94.24" r="1.3" fill="#8a1a3c"/>
<text x="378.5" y="23.7" font-size="6.6" text-anchor="middle" fill="#222" ><tspan font-style="italic">P</tspan> = 0.024</text>
<text x="335.0" y="109.1" font-size="6.6" text-anchor="middle" fill="#222" >≤200 mg</text>
<text x="374.1" y="109.1" font-size="6.6" text-anchor="middle" fill="#222" >≥400 mg</text>
<text x="335.0" y="116.8" font-size="6.6" text-anchor="middle" fill="#222" >(<tspan font-style="italic">n</tspan> = 37)</text>
<text x="374.1" y="116.8" font-size="6.6" text-anchor="middle" fill="#222" >(<tspan font-style="italic">n</tspan> = 21)</text>
<text x="470.7" y="8.5" font-size="6.6" text-anchor="middle" fill="#222" >CXCL10</text>
<line x1="433.00" y1="17.40" x2="433.00" y2="96.60" stroke="#666" stroke-width="0.9" />
<line x1="430.40" y1="96.60" x2="433.00" y2="96.60" stroke="#666" stroke-width="0.8" />
<text x="428.0" y="98.9" font-size="6.5" text-anchor="end" fill="#222" >0</text>
<line x1="430.40" y1="83.40" x2="433.00" y2="83.40" stroke="#666" stroke-width="0.8" />
<text x="428.0" y="85.7" font-size="6.5" text-anchor="end" fill="#222" >1</text>
<line x1="430.40" y1="70.20" x2="433.00" y2="70.20" stroke="#666" stroke-width="0.8" />
<text x="428.0" y="72.5" font-size="6.5" text-anchor="end" fill="#222" >2</text>
<line x1="430.40" y1="57.00" x2="433.00" y2="57.00" stroke="#666" stroke-width="0.8" />
<text x="428.0" y="59.3" font-size="6.5" text-anchor="end" fill="#222" >3</text>
<line x1="430.40" y1="43.80" x2="433.00" y2="43.80" stroke="#666" stroke-width="0.8" />
<text x="428.0" y="46.1" font-size="6.5" text-anchor="end" fill="#222" >4</text>
<line x1="430.40" y1="30.60" x2="433.00" y2="30.60" stroke="#666" stroke-width="0.8" />
<text x="428.0" y="32.9" font-size="6.5" text-anchor="end" fill="#222" >5</text>
<line x1="430.40" y1="17.40" x2="433.00" y2="17.40" stroke="#666" stroke-width="0.8" />
<text x="428.0" y="19.7" font-size="6.5" text-anchor="end" fill="#222" >6</text>
<text x="0" y="0" font-size="6.5" text-anchor="middle" fill="#333" transform="translate(417.6,56.2) rotate(-90)">Fold change from baseline</text>
<line x1="456.80" y1="63.40" x2="456.80" y2="51.70" stroke="#4f9a96" stroke-width="0.8" stroke-dasharray="1,1.6"/>
<line x1="452.00" y1="51.70" x2="461.60" y2="51.70" stroke="#999" stroke-width="0.8" />
<line x1="456.80" y1="74.10" x2="456.80" y2="82.00" stroke="#4f9a96" stroke-width="0.8" stroke-dasharray="1,1.6"/>
<line x1="452.00" y1="82.00" x2="461.60" y2="82.00" stroke="#999" stroke-width="0.8" />
<rect x="446.00" y="63.40" width="21.60" height="10.70" fill="none" stroke="#1a9c8c" stroke-width="1.7"/>
<line x1="446.00" y1="68.50" x2="467.60" y2="68.50" stroke="#1a9c8c" stroke-width="1.7" />
<line x1="497.55" y1="69.50" x2="497.55" y2="53.90" stroke="#4f9a96" stroke-width="0.8" stroke-dasharray="1,1.6"/>
<line x1="492.75" y1="53.90" x2="502.35" y2="53.90" stroke="#999" stroke-width="0.8" />
<line x1="497.55" y1="80.20" x2="497.55" y2="83.00" stroke="#4f9a96" stroke-width="0.8" stroke-dasharray="1,1.6"/>
<line x1="492.75" y1="83.00" x2="502.35" y2="83.00" stroke="#999" stroke-width="0.8" />
<rect x="487.00" y="69.50" width="21.10" height="10.70" fill="none" stroke="#1a9c8c" stroke-width="1.7"/>
<line x1="487.00" y1="79.50" x2="508.10" y2="79.50" stroke="#1a9c8c" stroke-width="1.7" />
<circle cx="459.50" cy="17.00" r="1.3" fill="#8a1a3c"/>
<circle cx="459.00" cy="51.70" r="1.3" fill="#8a1a3c"/>
<circle cx="453.50" cy="58.40" r="1.3" fill="#8a1a3c"/>
<circle cx="459.50" cy="58.40" r="1.3" fill="#8a1a3c"/>
<circle cx="457.27" cy="61.40" r="1.3" fill="#8a1a3c"/>
<circle cx="457.62" cy="62.45" r="1.3" fill="#8a1a3c"/>
<circle cx="454.39" cy="63.71" r="1.3" fill="#8a1a3c"/>
<circle cx="459.02" cy="63.57" r="1.3" fill="#8a1a3c"/>
<circle cx="455.41" cy="64.80" r="1.3" fill="#8a1a3c"/>
<circle cx="456.82" cy="66.82" r="1.3" fill="#8a1a3c"/>
<circle cx="456.86" cy="67.41" r="1.3" fill="#8a1a3c"/>
<circle cx="454.90" cy="67.94" r="1.3" fill="#8a1a3c"/>
<circle cx="459.21" cy="68.77" r="1.3" fill="#8a1a3c"/>
<circle cx="458.45" cy="69.43" r="1.3" fill="#8a1a3c"/>
<circle cx="454.38" cy="70.51" r="1.3" fill="#8a1a3c"/>
<circle cx="457.55" cy="71.49" r="1.3" fill="#8a1a3c"/>
<circle cx="454.19" cy="71.60" r="1.3" fill="#8a1a3c"/>
<circle cx="456.84" cy="73.35" r="1.3" fill="#8a1a3c"/>
<circle cx="459.27" cy="73.95" r="1.3" fill="#8a1a3c"/>
<circle cx="459.53" cy="74.79" r="1.3" fill="#8a1a3c"/>
<circle cx="458.81" cy="75.12" r="1.3" fill="#8a1a3c"/>
<circle cx="459.61" cy="76.04" r="1.3" fill="#8a1a3c"/>
<circle cx="454.58" cy="77.58" r="1.3" fill="#8a1a3c"/>
<circle cx="455.30" cy="77.23" r="1.3" fill="#8a1a3c"/>
<circle cx="456.62" cy="79.40" r="1.3" fill="#8a1a3c"/>
<circle cx="455.81" cy="79.70" r="1.3" fill="#8a1a3c"/>
<circle cx="456.32" cy="80.35" r="1.3" fill="#8a1a3c"/>
<circle cx="457.51" cy="80.94" r="1.3" fill="#8a1a3c"/>
<circle cx="497.00" cy="16.00" r="1.3" fill="#8a1a3c"/>
<circle cx="497.00" cy="50.30" r="1.3" fill="#8a1a3c"/>
<circle cx="497.00" cy="54.00" r="1.3" fill="#8a1a3c"/>
<circle cx="495.00" cy="64.80" r="1.3" fill="#8a1a3c"/>
<circle cx="498.00" cy="67.50" r="1.3" fill="#8a1a3c"/>
<circle cx="494.50" cy="71.50" r="1.3" fill="#8a1a3c"/>
<circle cx="492.83" cy="76.42" r="1.3" fill="#8a1a3c"/>
<circle cx="493.24" cy="77.35" r="1.3" fill="#8a1a3c"/>
<circle cx="495.21" cy="77.50" r="1.3" fill="#8a1a3c"/>
<circle cx="498.40" cy="79.54" r="1.3" fill="#8a1a3c"/>
<circle cx="493.78" cy="79.97" r="1.3" fill="#8a1a3c"/>
<circle cx="494.21" cy="80.29" r="1.3" fill="#8a1a3c"/>
<circle cx="492.85" cy="80.38" r="1.3" fill="#8a1a3c"/>
<circle cx="499.42" cy="81.13" r="1.3" fill="#8a1a3c"/>
<circle cx="498.45" cy="82.79" r="1.3" fill="#8a1a3c"/>
<text x="501.0" y="24.4" font-size="6.6" text-anchor="middle" fill="#222" ><tspan font-style="italic">P</tspan> = 0.009</text>
<text x="458.9" y="111.1" font-size="6.6" text-anchor="middle" fill="#222" >≤200 mg</text>
<text x="499.1" y="111.1" font-size="6.6" text-anchor="middle" fill="#222" >≥400 mg</text>
<text x="458.9" y="118.6" font-size="6.6" text-anchor="middle" fill="#222" >(<tspan font-style="italic">n</tspan> = 36)</text>
<text x="499.1" y="118.6" font-size="6.6" text-anchor="middle" fill="#222" >(<tspan font-style="italic">n</tspan> = 20)</text>
<text x="351.8" y="144.8" font-size="6.6" text-anchor="middle" fill="#222" >Proliferating (Ki-67<tspan baseline-shift="2.4" font-size="4.8">+</tspan>)</text>
<text x="351.8" y="153.4" font-size="6.6" text-anchor="middle" fill="#222" >CD8<tspan baseline-shift="2.4" font-size="4.8">+</tspan> T cells</text>
<line x1="308.00" y1="172.80" x2="308.00" y2="240.20" stroke="#666" stroke-width="0.9" />
<line x1="305.40" y1="240.20" x2="308.00" y2="240.20" stroke="#666" stroke-width="0.8" />
<text x="303.0" y="242.5" font-size="6.5" text-anchor="end" fill="#222" >0</text>
<line x1="305.40" y1="223.35" x2="308.00" y2="223.35" stroke="#666" stroke-width="0.8" />
<text x="303.0" y="225.7" font-size="6.5" text-anchor="end" fill="#222" >5</text>
<line x1="305.40" y1="206.50" x2="308.00" y2="206.50" stroke="#666" stroke-width="0.8" />
<text x="303.0" y="208.8" font-size="6.5" text-anchor="end" fill="#222" >10</text>
<line x1="305.40" y1="189.65" x2="308.00" y2="189.65" stroke="#666" stroke-width="0.8" />
<text x="303.0" y="191.9" font-size="6.5" text-anchor="end" fill="#222" >15</text>
<line x1="305.40" y1="172.80" x2="308.00" y2="172.80" stroke="#666" stroke-width="0.8" />
<text x="303.0" y="175.1" font-size="6.5" text-anchor="end" fill="#222" >20</text>
<text x="0" y="0" font-size="6.5" text-anchor="middle" fill="#333" transform="translate(292.6,206.8) rotate(-90)">Fold change from baseline</text>
<line x1="330.85" y1="226.40" x2="330.85" y2="217.90" stroke="#4f9a96" stroke-width="0.8" stroke-dasharray="1,1.6"/>
<line x1="326.05" y1="217.90" x2="335.65" y2="217.90" stroke="#999" stroke-width="0.8" />
<line x1="330.85" y1="235.00" x2="330.85" y2="239.00" stroke="#4f9a96" stroke-width="0.8" stroke-dasharray="1,1.6"/>
<line x1="326.05" y1="239.00" x2="335.65" y2="239.00" stroke="#999" stroke-width="0.8" />
<rect x="320.50" y="226.40" width="20.70" height="8.60" fill="none" stroke="#1a9c8c" stroke-width="1.7"/>
<line x1="320.50" y1="233.00" x2="341.20" y2="233.00" stroke="#1a9c8c" stroke-width="1.7" />
<line x1="371.70" y1="233.50" x2="371.70" y2="231.50" stroke="#4f9a96" stroke-width="0.8" stroke-dasharray="1,1.6"/>
<line x1="366.90" y1="231.50" x2="376.50" y2="231.50" stroke="#999" stroke-width="0.8" />
<line x1="371.70" y1="237.70" x2="371.70" y2="239.50" stroke="#4f9a96" stroke-width="0.8" stroke-dasharray="1,1.6"/>
<line x1="366.90" y1="239.50" x2="376.50" y2="239.50" stroke="#999" stroke-width="0.8" />
<rect x="361.00" y="233.50" width="21.40" height="4.20" fill="none" stroke="#1a9c8c" stroke-width="1.7"/>
<line x1="361.00" y1="235.50" x2="382.40" y2="235.50" stroke="#1a9c8c" stroke-width="1.7" />
<circle cx="327.80" cy="160.30" r="1.3" fill="#1a0508"/>
<circle cx="327.80" cy="165.20" r="1.3" fill="#1a0508"/>
<circle cx="329.50" cy="218.00" r="1.3" fill="#1a0508"/>
<circle cx="329.00" cy="223.20" r="1.3" fill="#1a0508"/>
<circle cx="335.00" cy="223.00" r="1.3" fill="#1a0508"/>
<circle cx="333.45" cy="225.54" r="1.4" fill="#5e1026"/>
<circle cx="334.65" cy="226.50" r="1.4" fill="#5e1026"/>
<circle cx="334.53" cy="227.09" r="1.4" fill="#5e1026"/>
<circle cx="331.79" cy="226.63" r="1.4" fill="#5e1026"/>
<circle cx="332.89" cy="228.78" r="1.4" fill="#5e1026"/>
<circle cx="329.68" cy="229.39" r="1.4" fill="#5e1026"/>
<circle cx="330.48" cy="229.38" r="1.4" fill="#5e1026"/>
<circle cx="332.44" cy="230.18" r="1.4" fill="#5e1026"/>
<circle cx="330.30" cy="230.02" r="1.4" fill="#5e1026"/>
<circle cx="334.50" cy="231.12" r="1.4" fill="#5e1026"/>
<circle cx="329.96" cy="232.58" r="1.4" fill="#5e1026"/>
<circle cx="329.83" cy="233.32" r="1.4" fill="#5e1026"/>
<circle cx="329.76" cy="233.71" r="1.4" fill="#5e1026"/>
<circle cx="334.23" cy="233.41" r="1.4" fill="#5e1026"/>
<circle cx="330.29" cy="234.42" r="1.4" fill="#5e1026"/>
<circle cx="334.23" cy="236.34" r="1.4" fill="#5e1026"/>
<circle cx="334.77" cy="235.91" r="1.4" fill="#5e1026"/>
<circle cx="333.07" cy="236.99" r="1.4" fill="#5e1026"/>
<circle cx="334.65" cy="237.14" r="1.4" fill="#5e1026"/>
<circle cx="334.80" cy="238.60" r="1.4" fill="#5e1026"/>
<circle cx="330.79" cy="239.61" r="1.4" fill="#5e1026"/>
<circle cx="330.00" cy="239.44" r="1.4" fill="#5e1026"/>
<circle cx="374.06" cy="232.27" r="1.4" fill="#5e1026"/>
<circle cx="370.47" cy="232.39" r="1.4" fill="#5e1026"/>
<circle cx="373.04" cy="232.22" r="1.4" fill="#5e1026"/>
<circle cx="373.66" cy="233.58" r="1.4" fill="#5e1026"/>
<circle cx="373.73" cy="234.03" r="1.4" fill="#5e1026"/>
<circle cx="373.93" cy="234.48" r="1.4" fill="#5e1026"/>
<circle cx="371.45" cy="235.81" r="1.4" fill="#5e1026"/>
<circle cx="373.17" cy="236.11" r="1.4" fill="#5e1026"/>
<circle cx="372.34" cy="236.17" r="1.4" fill="#5e1026"/>
<circle cx="370.50" cy="237.76" r="1.4" fill="#5e1026"/>
<circle cx="373.19" cy="238.36" r="1.4" fill="#5e1026"/>
<circle cx="370.95" cy="239.03" r="1.4" fill="#5e1026"/>
<circle cx="373.92" cy="238.44" r="1.4" fill="#5e1026"/>
<circle cx="371.65" cy="240.18" r="1.4" fill="#5e1026"/>
<text x="377.5" y="169.4" font-size="6.6" text-anchor="middle" fill="#222" ><tspan font-style="italic">P</tspan> = 0.024</text>
<text x="330.6" y="254.5" font-size="6.6" text-anchor="middle" fill="#222" >≤200 mg</text>
<text x="370.6" y="254.5" font-size="6.6" text-anchor="middle" fill="#222" >≥400 mg</text>
<text x="330.6" y="262.2" font-size="6.6" text-anchor="middle" fill="#222" >(<tspan font-style="italic">n</tspan> = 33)</text>
<text x="370.6" y="262.2" font-size="6.6" text-anchor="middle" fill="#222" >(<tspan font-style="italic">n</tspan> = 21)</text>
<text x="477.8" y="144.2" font-size="6.6" text-anchor="middle" fill="#222" >Proliferating (Ki-67<tspan baseline-shift="2.4" font-size="4.8">+</tspan>) effector</text>
<text x="477.8" y="152.5" font-size="6.6" text-anchor="middle" fill="#222" >memory CD8<tspan baseline-shift="2.4" font-size="4.8">+</tspan> T cells</text>
<line x1="435.30" y1="164.09" x2="435.30" y2="240.50" stroke="#666" stroke-width="0.9" />
<line x1="432.70" y1="240.50" x2="435.30" y2="240.50" stroke="#666" stroke-width="0.8" />
<text x="430.3" y="242.8" font-size="6.5" text-anchor="end" fill="#222" >0</text>
<line x1="432.70" y1="227.76" x2="435.30" y2="227.76" stroke="#666" stroke-width="0.8" />
<text x="430.3" y="230.1" font-size="6.5" text-anchor="end" fill="#222" >5</text>
<line x1="432.70" y1="215.03" x2="435.30" y2="215.03" stroke="#666" stroke-width="0.8" />
<text x="430.3" y="217.3" font-size="6.5" text-anchor="end" fill="#222" >10</text>
<line x1="432.70" y1="202.29" x2="435.30" y2="202.29" stroke="#666" stroke-width="0.8" />
<text x="430.3" y="204.6" font-size="6.5" text-anchor="end" fill="#222" >15</text>
<line x1="432.70" y1="189.56" x2="435.30" y2="189.56" stroke="#666" stroke-width="0.8" />
<text x="430.3" y="191.9" font-size="6.5" text-anchor="end" fill="#222" >20</text>
<line x1="432.70" y1="176.82" x2="435.30" y2="176.82" stroke="#666" stroke-width="0.8" />
<text x="430.3" y="179.1" font-size="6.5" text-anchor="end" fill="#222" >25</text>
<line x1="432.70" y1="164.09" x2="435.30" y2="164.09" stroke="#666" stroke-width="0.8" />
<text x="430.3" y="166.4" font-size="6.5" text-anchor="end" fill="#222" >30</text>
<text x="0" y="0" font-size="6.5" text-anchor="middle" fill="#333" transform="translate(417.6,202.4) rotate(-90)">Fold change from baseline</text>
<line x1="458.95" y1="227.30" x2="458.95" y2="223.20" stroke="#4f9a96" stroke-width="0.8" stroke-dasharray="1,1.6"/>
<line x1="454.15" y1="223.20" x2="463.75" y2="223.20" stroke="#999" stroke-width="0.8" />
<line x1="458.95" y1="237.30" x2="458.95" y2="240.00" stroke="#4f9a96" stroke-width="0.8" stroke-dasharray="1,1.6"/>
<line x1="454.15" y1="240.00" x2="463.75" y2="240.00" stroke="#999" stroke-width="0.8" />
<rect x="447.90" y="227.30" width="22.10" height="10.00" fill="none" stroke="#1a9c8c" stroke-width="1.7"/>
<line x1="447.90" y1="234.00" x2="470.00" y2="234.00" stroke="#1a9c8c" stroke-width="1.7" />
<line x1="498.90" y1="234.50" x2="498.90" y2="232.00" stroke="#4f9a96" stroke-width="0.8" stroke-dasharray="1,1.6"/>
<line x1="494.10" y1="232.00" x2="503.70" y2="232.00" stroke="#999" stroke-width="0.8" />
<line x1="498.90" y1="238.30" x2="498.90" y2="240.00" stroke="#4f9a96" stroke-width="0.8" stroke-dasharray="1,1.6"/>
<line x1="494.10" y1="240.00" x2="503.70" y2="240.00" stroke="#999" stroke-width="0.8" />
<rect x="488.00" y="234.50" width="21.80" height="3.80" fill="none" stroke="#1a9c8c" stroke-width="1.7"/>
<line x1="488.00" y1="236.50" x2="509.80" y2="236.50" stroke="#1a9c8c" stroke-width="1.7" />
<circle cx="454.70" cy="161.00" r="1.3" fill="#1a0508"/>
<circle cx="455.00" cy="172.70" r="1.3" fill="#1a0508"/>
<circle cx="456.00" cy="207.60" r="1.3" fill="#1a0508"/>
<circle cx="497.80" cy="223.00" r="1.3" fill="#1a0508"/>
<circle cx="460.00" cy="223.50" r="1.3" fill="#1a0508"/>
<circle cx="456.27" cy="227.99" r="1.4" fill="#5e1026"/>
<circle cx="455.76" cy="229.06" r="1.4" fill="#5e1026"/>
<circle cx="457.64" cy="229.42" r="1.4" fill="#5e1026"/>
<circle cx="458.55" cy="229.20" r="1.4" fill="#5e1026"/>
<circle cx="458.08" cy="229.71" r="1.4" fill="#5e1026"/>
<circle cx="455.88" cy="230.31" r="1.4" fill="#5e1026"/>
<circle cx="460.59" cy="231.42" r="1.4" fill="#5e1026"/>
<circle cx="456.73" cy="231.49" r="1.4" fill="#5e1026"/>
<circle cx="461.37" cy="232.84" r="1.4" fill="#5e1026"/>
<circle cx="457.84" cy="233.31" r="1.4" fill="#5e1026"/>
<circle cx="455.60" cy="234.49" r="1.4" fill="#5e1026"/>
<circle cx="457.15" cy="234.85" r="1.4" fill="#5e1026"/>
<circle cx="456.05" cy="234.25" r="1.4" fill="#5e1026"/>
<circle cx="460.52" cy="235.06" r="1.4" fill="#5e1026"/>
<circle cx="459.02" cy="235.40" r="1.4" fill="#5e1026"/>
<circle cx="457.68" cy="236.68" r="1.4" fill="#5e1026"/>
<circle cx="455.70" cy="237.08" r="1.4" fill="#5e1026"/>
<circle cx="456.62" cy="236.84" r="1.4" fill="#5e1026"/>
<circle cx="458.04" cy="238.38" r="1.4" fill="#5e1026"/>
<circle cx="459.05" cy="238.34" r="1.4" fill="#5e1026"/>
<circle cx="457.22" cy="239.11" r="1.4" fill="#5e1026"/>
<circle cx="459.77" cy="240.20" r="1.4" fill="#5e1026"/>
<circle cx="502.33" cy="232.35" r="1.4" fill="#5e1026"/>
<circle cx="500.47" cy="232.77" r="1.4" fill="#5e1026"/>
<circle cx="497.18" cy="233.28" r="1.4" fill="#5e1026"/>
<circle cx="496.91" cy="235.32" r="1.4" fill="#5e1026"/>
<circle cx="498.71" cy="235.32" r="1.4" fill="#5e1026"/>
<circle cx="498.96" cy="235.60" r="1.4" fill="#5e1026"/>
<circle cx="501.38" cy="235.76" r="1.4" fill="#5e1026"/>
<circle cx="497.09" cy="236.17" r="1.4" fill="#5e1026"/>
<circle cx="497.32" cy="236.64" r="1.4" fill="#5e1026"/>
<circle cx="501.89" cy="237.83" r="1.4" fill="#5e1026"/>
<circle cx="496.22" cy="238.36" r="1.4" fill="#5e1026"/>
<circle cx="502.54" cy="238.75" r="1.4" fill="#5e1026"/>
<circle cx="499.87" cy="239.01" r="1.4" fill="#5e1026"/>
<line x1="468.50" y1="158.60" x2="470.50" y2="158.60" stroke="#555" stroke-width="0.8" />
<text x="502.4" y="168.7" font-size="6.6" text-anchor="middle" fill="#222" ><tspan font-style="italic">P</tspan> = 0.005</text>
<text x="460.6" y="254.5" font-size="6.6" text-anchor="middle" fill="#222" >≤200 mg</text>
<text x="500.6" y="254.5" font-size="6.6" text-anchor="middle" fill="#222" >≥400 mg</text>
<text x="460.6" y="262.2" font-size="6.6" text-anchor="middle" fill="#222" >(<tspan font-style="italic">n</tspan> = 30)</text>
<text x="500.6" y="262.2" font-size="6.6" text-anchor="middle" fill="#222" >(<tspan font-style="italic">n</tspan> = 21)</text>
<text x="64.0" y="293.9" font-size="6.6" text-anchor="middle" fill="#222" >HLA-DR CD56<tspan baseline-shift="2.4" font-size="4.8">+</tspan> NK</text>
<text x="64.0" y="301.0" font-size="6.6" text-anchor="middle" fill="#222" >(%CD56<tspan baseline-shift="2.4" font-size="4.8">+</tspan> NK cells)</text>
<line x1="20.60" y1="308.64" x2="20.60" y2="402.30" stroke="#666" stroke-width="0.9" />
<line x1="18.00" y1="402.30" x2="20.60" y2="402.30" stroke="#666" stroke-width="0.8" />
<text x="15.6" y="404.6" font-size="6.5" text-anchor="end" fill="#222" >0</text>
<line x1="18.00" y1="388.92" x2="20.60" y2="388.92" stroke="#666" stroke-width="0.8" />
<text x="15.6" y="391.2" font-size="6.5" text-anchor="end" fill="#222" >2</text>
<line x1="18.00" y1="375.54" x2="20.60" y2="375.54" stroke="#666" stroke-width="0.8" />
<text x="15.6" y="377.8" font-size="6.5" text-anchor="end" fill="#222" >4</text>
<line x1="18.00" y1="362.16" x2="20.60" y2="362.16" stroke="#666" stroke-width="0.8" />
<text x="15.6" y="364.5" font-size="6.5" text-anchor="end" fill="#222" >6</text>
<line x1="18.00" y1="348.78" x2="20.60" y2="348.78" stroke="#666" stroke-width="0.8" />
<text x="15.6" y="351.1" font-size="6.5" text-anchor="end" fill="#222" >8</text>
<line x1="18.00" y1="335.40" x2="20.60" y2="335.40" stroke="#666" stroke-width="0.8" />
<text x="15.6" y="337.7" font-size="6.5" text-anchor="end" fill="#222" >10</text>
<line x1="18.00" y1="322.02" x2="20.60" y2="322.02" stroke="#666" stroke-width="0.8" />
<text x="15.6" y="324.3" font-size="6.5" text-anchor="end" fill="#222" >12</text>
<line x1="18.00" y1="308.64" x2="20.60" y2="308.64" stroke="#666" stroke-width="0.8" />
<text x="15.6" y="310.9" font-size="6.5" text-anchor="end" fill="#222" >14</text>
<text x="0" y="0" font-size="6.2" text-anchor="middle" fill="#333" transform="translate(6.6,350.5) rotate(-90)">Fold change from baseline</text>
<line x1="44.15" y1="378.90" x2="44.15" y2="359.20" stroke="#4f9a96" stroke-width="0.8" stroke-dasharray="1,1.6"/>
<line x1="39.35" y1="359.20" x2="48.95" y2="359.20" stroke="#999" stroke-width="0.8" />
<line x1="44.15" y1="394.40" x2="44.15" y2="397.40" stroke="#4f9a96" stroke-width="0.8" stroke-dasharray="1,1.6"/>
<line x1="39.35" y1="397.40" x2="48.95" y2="397.40" stroke="#999" stroke-width="0.8" />
<rect x="34.10" y="378.90" width="20.10" height="15.50" fill="none" stroke="#1a9c8c" stroke-width="1.9"/>
<line x1="34.10" y1="392.40" x2="54.20" y2="392.40" stroke="#1a9c8c" stroke-width="1.9" />
<line x1="80.85" y1="390.40" x2="80.85" y2="386.10" stroke="#4f9a96" stroke-width="0.8" stroke-dasharray="1,1.6"/>
<line x1="76.05" y1="386.10" x2="85.65" y2="386.10" stroke="#999" stroke-width="0.8" />
<line x1="80.85" y1="395.80" x2="80.85" y2="401.10" stroke="#4f9a96" stroke-width="0.8" stroke-dasharray="1,1.6"/>
<line x1="76.05" y1="401.10" x2="85.65" y2="401.10" stroke="#999" stroke-width="0.8" />
<rect x="70.40" y="390.40" width="20.90" height="5.40" fill="none" stroke="#1a9c8c" stroke-width="1.9"/>
<line x1="70.40" y1="393.00" x2="91.30" y2="393.00" stroke="#1a9c8c" stroke-width="1.9" />
<circle cx="47.20" cy="310.30" r="1.3" fill="#1a0a0e"/>
<circle cx="41.00" cy="359.20" r="1.3" fill="#1a0a0e"/>
<circle cx="40.50" cy="371.00" r="1.3" fill="#1a0a0e"/>
<circle cx="46.50" cy="371.00" r="1.3" fill="#1a0a0e"/>
<circle cx="43.50" cy="374.00" r="1.3" fill="#1a0a0e"/>
<circle cx="45.70" cy="378.00" r="1.3" fill="#1a0a0e"/>
<circle cx="44.00" cy="378.50" r="1.3" fill="#1a0a0e"/>
<circle cx="43.94" cy="383.44" r="1.3" fill="#1a0a0e"/>
<circle cx="46.11" cy="383.92" r="1.3" fill="#1a0a0e"/>
<circle cx="44.51" cy="384.71" r="1.3" fill="#1a0a0e"/>
<circle cx="42.66" cy="387.14" r="1.3" fill="#1a0a0e"/>
<circle cx="45.01" cy="387.59" r="1.3" fill="#1a0a0e"/>
<circle cx="43.97" cy="387.77" r="1.3" fill="#1a0a0e"/>
<circle cx="44.29" cy="389.83" r="1.3" fill="#1a0a0e"/>
<circle cx="42.99" cy="390.86" r="1.3" fill="#1a0a0e"/>
<circle cx="42.79" cy="391.08" r="1.3" fill="#1a0a0e"/>
<circle cx="46.36" cy="392.51" r="1.3" fill="#1a0a0e"/>
<circle cx="45.71" cy="393.64" r="1.3" fill="#1a0a0e"/>
<circle cx="45.58" cy="394.31" r="1.3" fill="#1a0a0e"/>
<circle cx="43.58" cy="394.86" r="1.3" fill="#1a0a0e"/>
<circle cx="45.49" cy="396.78" r="1.3" fill="#1a0a0e"/>
<circle cx="84.50" cy="386.00" r="1.3" fill="#1a0a0e"/>
<circle cx="82.00" cy="389.00" r="1.3" fill="#1a0a0e"/>
<circle cx="80.00" cy="392.00" r="1.3" fill="#1a0a0e"/>
<circle cx="81.50" cy="394.00" r="1.3" fill="#1a0a0e"/>
<circle cx="79.50" cy="397.00" r="1.3" fill="#1a0a0e"/>
<circle cx="83.50" cy="400.00" r="1.3" fill="#1a0a0e"/>
<circle cx="81.00" cy="401.00" r="1.3" fill="#1a0a0e"/>
<text x="85.9" y="324.5" font-size="6.6" text-anchor="middle" fill="#222" ><tspan font-style="italic">P</tspan> = 0.004</text>
<text x="45.4" y="413.3" font-size="6.6" text-anchor="middle" fill="#222" >≤200 mg</text>
<text x="82.3" y="413.3" font-size="6.6" text-anchor="middle" fill="#222" >≥400 mg</text>
<text x="45.4" y="420.7" font-size="6.6" text-anchor="middle" fill="#222" >(<tspan font-style="italic">n</tspan> = 33)</text>
<text x="82.3" y="420.7" font-size="6.6" text-anchor="middle" fill="#222" >(<tspan font-style="italic">n</tspan> = 21)</text>
<text x="184.6" y="293.0" font-size="6.6" text-anchor="middle" fill="#222" >HLA-DR CD56<tspan baseline-shift="2.4" font-size="4.8">dim</tspan> NK</text>
<text x="184.6" y="301.0" font-size="6.6" text-anchor="middle" fill="#222" >(%CD56<tspan baseline-shift="2.4" font-size="4.8">dim</tspan> NK cells)</text>
<line x1="142.10" y1="321.68" x2="142.10" y2="399.80" stroke="#666" stroke-width="0.9" />
<line x1="139.50" y1="399.80" x2="142.10" y2="399.80" stroke="#666" stroke-width="0.8" />
<text x="137.1" y="402.1" font-size="6.5" text-anchor="end" fill="#222" >0</text>
<line x1="139.50" y1="380.27" x2="142.10" y2="380.27" stroke="#666" stroke-width="0.8" />
<text x="137.1" y="382.6" font-size="6.5" text-anchor="end" fill="#222" >10</text>
<line x1="139.50" y1="360.74" x2="142.10" y2="360.74" stroke="#666" stroke-width="0.8" />
<text x="137.1" y="363.0" font-size="6.5" text-anchor="end" fill="#222" >20</text>
<line x1="139.50" y1="341.21" x2="142.10" y2="341.21" stroke="#666" stroke-width="0.8" />
<text x="137.1" y="343.5" font-size="6.5" text-anchor="end" fill="#222" >30</text>
<line x1="139.50" y1="321.68" x2="142.10" y2="321.68" stroke="#666" stroke-width="0.8" />
<text x="137.1" y="324.0" font-size="6.5" text-anchor="end" fill="#222" >40</text>
<rect x="154.10" y="393.10" width="20.10" height="5.40" fill="none" stroke="#1a9c8c" stroke-width="1.9"/>
<line x1="154.10" y1="395.80" x2="174.20" y2="395.80" stroke="#1a9c8c" stroke-width="1.9" />
<rect x="190.80" y="396.00" width="19.80" height="2.50" fill="none" stroke="#1a9c8c" stroke-width="1.9"/>
<line x1="190.80" y1="397.20" x2="210.60" y2="397.20" stroke="#1a9c8c" stroke-width="1.9" />
<circle cx="161.50" cy="366.60" r="1.3" fill="#1a0a0e"/>
<circle cx="167.80" cy="369.20" r="1.3" fill="#1a0a0e"/>
<circle cx="162.50" cy="372.50" r="1.3" fill="#1a0a0e"/>
<circle cx="166.00" cy="384.50" r="1.3" fill="#1a0a0e"/>
<circle cx="166.00" cy="387.00" r="1.3" fill="#1a0a0e"/>
<circle cx="160.50" cy="388.50" r="1.3" fill="#1a0a0e"/>
<circle cx="167.50" cy="390.50" r="1.3" fill="#1a0a0e"/>
<circle cx="164.00" cy="393.00" r="1.3" fill="#1a0a0e"/>
<circle cx="163.43" cy="392.34" r="1.4" fill="#1a0a0e"/>
<circle cx="161.65" cy="392.79" r="1.4" fill="#1a0a0e"/>
<circle cx="166.59" cy="393.61" r="1.4" fill="#1a0a0e"/>
<circle cx="161.28" cy="393.80" r="1.4" fill="#1a0a0e"/>
<circle cx="162.62" cy="394.03" r="1.4" fill="#1a0a0e"/>
<circle cx="167.62" cy="394.04" r="1.4" fill="#1a0a0e"/>
<circle cx="160.36" cy="395.68" r="1.4" fill="#1a0a0e"/>
<circle cx="164.83" cy="395.91" r="1.4" fill="#1a0a0e"/>
<circle cx="162.27" cy="395.59" r="1.4" fill="#1a0a0e"/>
<circle cx="163.65" cy="396.50" r="1.4" fill="#1a0a0e"/>
<circle cx="165.29" cy="396.96" r="1.4" fill="#1a0a0e"/>
<circle cx="166.14" cy="396.52" r="1.4" fill="#1a0a0e"/>
<circle cx="167.76" cy="398.33" r="1.4" fill="#1a0a0e"/>
<circle cx="160.35" cy="398.18" r="1.4" fill="#1a0a0e"/>
<circle cx="161.07" cy="397.65" r="1.4" fill="#1a0a0e"/>
<circle cx="162.42" cy="399.59" r="1.4" fill="#1a0a0e"/>
<circle cx="167.19" cy="399.12" r="1.4" fill="#1a0a0e"/>
<circle cx="164.39" cy="399.48" r="1.4" fill="#1a0a0e"/>
<circle cx="203.50" cy="308.60" r="1.3" fill="#1a0a0e"/>
<circle cx="203.80" cy="369.50" r="1.3" fill="#1a0a0e"/>
<circle cx="202.00" cy="382.50" r="1.3" fill="#1a0a0e"/>
<circle cx="200.95" cy="395.65" r="1.4" fill="#1a0a0e"/>
<circle cx="200.24" cy="396.85" r="1.4" fill="#1a0a0e"/>
<circle cx="201.16" cy="396.64" r="1.4" fill="#1a0a0e"/>
<circle cx="200.59" cy="396.57" r="1.4" fill="#1a0a0e"/>
<circle cx="202.73" cy="397.73" r="1.4" fill="#1a0a0e"/>
<circle cx="199.01" cy="397.33" r="1.4" fill="#1a0a0e"/>
<circle cx="202.85" cy="397.77" r="1.4" fill="#1a0a0e"/>
<circle cx="197.02" cy="399.18" r="1.4" fill="#1a0a0e"/>
<circle cx="204.03" cy="400.10" r="1.4" fill="#1a0a0e"/>
<circle cx="201.38" cy="400.02" r="1.4" fill="#1a0a0e"/>
<text x="204.8" y="324.5" font-size="6.6" text-anchor="middle" fill="#222" ><tspan font-style="italic">P</tspan> = 0.015</text>
<text x="165.6" y="413.3" font-size="6.6" text-anchor="middle" fill="#222" >≤200 mg</text>
<text x="202.5" y="413.3" font-size="6.6" text-anchor="middle" fill="#222" >≥400 mg</text>
<text x="165.6" y="420.7" font-size="6.6" text-anchor="middle" fill="#222" >(<tspan font-style="italic">n</tspan> = 33)</text>
<text x="202.5" y="420.7" font-size="6.6" text-anchor="middle" fill="#222" >(<tspan font-style="italic">n</tspan> = 22)</text>
<text x="307.2" y="293.9" font-size="6.6" text-anchor="middle" fill="#222" >4-1BB<tspan baseline-shift="2.4" font-size="4.8">+</tspan> CD56<tspan baseline-shift="2.4" font-size="4.8">+</tspan> NK</text>
<text x="307.2" y="301.4" font-size="6.6" text-anchor="middle" fill="#222" >(%CD56<tspan baseline-shift="2.4" font-size="4.8">+</tspan> NK cells)</text>
<line x1="267.50" y1="320.40" x2="267.50" y2="399.60" stroke="#666" stroke-width="0.9" />
<line x1="264.90" y1="399.60" x2="267.50" y2="399.60" stroke="#666" stroke-width="0.8" />
<text x="262.5" y="401.9" font-size="6.5" text-anchor="end" fill="#222" >0</text>
<line x1="264.90" y1="379.80" x2="267.50" y2="379.80" stroke="#666" stroke-width="0.8" />
<text x="262.5" y="382.1" font-size="6.5" text-anchor="end" fill="#222" >10</text>
<line x1="264.90" y1="360.00" x2="267.50" y2="360.00" stroke="#666" stroke-width="0.8" />
<text x="262.5" y="362.3" font-size="6.5" text-anchor="end" fill="#222" >20</text>
<line x1="264.90" y1="340.20" x2="267.50" y2="340.20" stroke="#666" stroke-width="0.8" />
<text x="262.5" y="342.5" font-size="6.5" text-anchor="end" fill="#222" >30</text>
<line x1="264.90" y1="320.40" x2="267.50" y2="320.40" stroke="#666" stroke-width="0.8" />
<text x="262.5" y="322.7" font-size="6.5" text-anchor="end" fill="#222" >40</text>
<line x1="288.70" y1="353.60" x2="288.70" y2="308.50" stroke="#4f9a96" stroke-width="0.8" stroke-dasharray="1,1.6"/>
<line x1="283.90" y1="308.50" x2="293.50" y2="308.50" stroke="#999" stroke-width="0.8" />
<line x1="288.70" y1="394.30" x2="288.70" y2="399.50" stroke="#4f9a96" stroke-width="0.8" stroke-dasharray="1,1.6"/>
<line x1="283.90" y1="399.50" x2="293.50" y2="399.50" stroke="#999" stroke-width="0.8" />
<rect x="278.70" y="353.60" width="20.00" height="40.70" fill="none" stroke="#1a9c8c" stroke-width="1.9"/>
<line x1="278.70" y1="391.00" x2="298.70" y2="391.00" stroke="#1a9c8c" stroke-width="1.9" />
<line x1="325.10" y1="391.00" x2="325.10" y2="381.00" stroke="#4f9a96" stroke-width="0.8" stroke-dasharray="1,1.6"/>
<line x1="320.30" y1="381.00" x2="329.90" y2="381.00" stroke="#999" stroke-width="0.8" />
<line x1="325.10" y1="399.10" x2="325.10" y2="400.00" stroke="#4f9a96" stroke-width="0.8" stroke-dasharray="1,1.6"/>
<line x1="320.30" y1="400.00" x2="329.90" y2="400.00" stroke="#999" stroke-width="0.8" />
<rect x="314.90" y="391.00" width="20.40" height="8.10" fill="none" stroke="#1a9c8c" stroke-width="1.9"/>
<circle cx="286.00" cy="308.70" r="1.3" fill="#1a0a0e"/>
<circle cx="289.50" cy="308.70" r="1.3" fill="#1a0a0e"/>
<circle cx="287.00" cy="317.50" r="1.3" fill="#1a0a0e"/>
<circle cx="285.00" cy="350.00" r="1.3" fill="#1a0a0e"/>
<circle cx="289.00" cy="351.50" r="1.3" fill="#1a0a0e"/>
<circle cx="287.00" cy="356.00" r="1.3" fill="#1a0a0e"/>
<circle cx="290.50" cy="364.00" r="1.3" fill="#1a0a0e"/>
<circle cx="286.50" cy="368.00" r="1.3" fill="#1a0a0e"/>
<circle cx="290.00" cy="375.00" r="1.3" fill="#1a0a0e"/>
<circle cx="286.00" cy="387.00" r="1.3" fill="#1a0a0e"/>
<circle cx="285.00" cy="392.00" r="1.3" fill="#1a0a0e"/>
<circle cx="288.00" cy="393.00" r="1.3" fill="#1a0a0e"/>
<circle cx="286.00" cy="399.00" r="1.3" fill="#1a0a0e"/>
<circle cx="289.00" cy="399.50" r="1.3" fill="#1a0a0e"/>
<circle cx="287.50" cy="390.00" r="1.3" fill="#1a0a0e"/>
<circle cx="289.00" cy="395.00" r="1.3" fill="#1a0a0e"/>
<circle cx="322.00" cy="382.00" r="1.3" fill="#1a0a0e"/>
<circle cx="323.50" cy="387.00" r="1.3" fill="#1a0a0e"/>
<circle cx="325.00" cy="390.00" r="1.3" fill="#1a0a0e"/>
<circle cx="327.00" cy="392.00" r="1.3" fill="#1a0a0e"/>
<circle cx="322.00" cy="395.00" r="1.3" fill="#1a0a0e"/>
<circle cx="328.00" cy="396.50" r="1.3" fill="#1a0a0e"/>
<circle cx="320.00" cy="397.00" r="1.3" fill="#1a0a0e"/>
<circle cx="324.50" cy="398.00" r="1.3" fill="#1a0a0e"/>
<circle cx="326.00" cy="399.50" r="1.3" fill="#1a0a0e"/>
<circle cx="330.00" cy="397.00" r="1.3" fill="#1a0a0e"/>
<text x="329.0" y="324.5" font-size="6.6" text-anchor="middle" fill="#222" ><tspan font-style="italic">P</tspan> = 0.027</text>
<text x="289.5" y="413.3" font-size="6.6" text-anchor="middle" fill="#222" >≤200 mg</text>
<text x="326.2" y="413.3" font-size="6.6" text-anchor="middle" fill="#222" >≥400 mg</text>
<text x="289.5" y="420.7" font-size="6.6" text-anchor="middle" fill="#222" >(<tspan font-style="italic">n</tspan> = 23)</text>
<text x="326.2" y="420.7" font-size="6.6" text-anchor="middle" fill="#222" >(<tspan font-style="italic">n</tspan> = 18)</text>
<text x="428.8" y="292.3" font-size="6.6" text-anchor="middle" fill="#222" >HLA-DR<tspan baseline-shift="2.4" font-size="4.8">+</tspan> effector</text>
<text x="428.8" y="301.4" font-size="6.6" text-anchor="middle" fill="#222" >memory CD8<tspan baseline-shift="2.4" font-size="4.8">+</tspan> T cells</text>
<line x1="387.90" y1="321.10" x2="387.90" y2="400.70" stroke="#666" stroke-width="0.9" />
<line x1="385.30" y1="400.70" x2="387.90" y2="400.70" stroke="#666" stroke-width="0.8" />
<text x="382.9" y="403.0" font-size="6.5" text-anchor="end" fill="#222" >0</text>
<line x1="385.30" y1="380.80" x2="387.90" y2="380.80" stroke="#666" stroke-width="0.8" />
<text x="382.9" y="383.1" font-size="6.5" text-anchor="end" fill="#222" >2</text>
<line x1="385.30" y1="360.90" x2="387.90" y2="360.90" stroke="#666" stroke-width="0.8" />
<text x="382.9" y="363.2" font-size="6.5" text-anchor="end" fill="#222" >4</text>
<line x1="385.30" y1="341.00" x2="387.90" y2="341.00" stroke="#666" stroke-width="0.8" />
<text x="382.9" y="343.3" font-size="6.5" text-anchor="end" fill="#222" >6</text>
<line x1="385.30" y1="321.10" x2="387.90" y2="321.10" stroke="#666" stroke-width="0.8" />
<text x="382.9" y="323.4" font-size="6.5" text-anchor="end" fill="#222" >8</text>
<line x1="409.70" y1="361.80" x2="409.70" y2="326.20" stroke="#4f9a96" stroke-width="0.8" stroke-dasharray="1,1.6"/>
<line x1="404.90" y1="326.20" x2="414.50" y2="326.20" stroke="#999" stroke-width="0.8" />
<line x1="409.70" y1="387.30" x2="409.70" y2="396.00" stroke="#4f9a96" stroke-width="0.8" stroke-dasharray="1,1.6"/>
<line x1="404.90" y1="396.00" x2="414.50" y2="396.00" stroke="#999" stroke-width="0.8" />
<rect x="399.50" y="361.80" width="20.40" height="25.50" fill="none" stroke="#1a9c8c" stroke-width="1.8"/>
<line x1="399.50" y1="377.80" x2="419.90" y2="377.80" stroke="#1a9c8c" stroke-width="1.8" />
<line x1="447.75" y1="382.30" x2="447.75" y2="380.00" stroke="#4f9a96" stroke-width="0.8" stroke-dasharray="1,1.6"/>
<line x1="442.95" y1="380.00" x2="452.55" y2="380.00" stroke="#999" stroke-width="0.8" />
<line x1="447.75" y1="391.00" x2="447.75" y2="396.00" stroke="#4f9a96" stroke-width="0.8" stroke-dasharray="1,1.6"/>
<line x1="442.95" y1="396.00" x2="452.55" y2="396.00" stroke="#999" stroke-width="0.8" />
<rect x="437.40" y="382.30" width="20.70" height="8.70" fill="none" stroke="#1a9c8c" stroke-width="1.7"/>
<line x1="437.40" y1="386.80" x2="458.10" y2="386.80" stroke="#1a9c8c" stroke-width="1.7" />
<circle cx="406.50" cy="305.50" r="1.3" fill="#8a1a3c"/>
<circle cx="408.00" cy="320.00" r="1.3" fill="#8a1a3c"/>
<circle cx="406.50" cy="326.20" r="1.3" fill="#8a1a3c"/>
<circle cx="412.00" cy="334.00" r="1.3" fill="#8a1a3c"/>
<circle cx="408.00" cy="348.50" r="1.3" fill="#8a1a3c"/>
<circle cx="408.00" cy="355.00" r="1.3" fill="#8a1a3c"/>
<circle cx="411.00" cy="360.00" r="1.3" fill="#8a1a3c"/>
<circle cx="410.00" cy="364.00" r="1.3" fill="#8a1a3c"/>
<circle cx="449.50" cy="311.00" r="1.3" fill="#8a1a3c"/>
<circle cx="410.94" cy="368.66" r="1.3" fill="#8a1a3c"/>
<circle cx="407.86" cy="370.37" r="1.3" fill="#8a1a3c"/>
<circle cx="409.25" cy="370.72" r="1.3" fill="#8a1a3c"/>
<circle cx="411.86" cy="372.54" r="1.3" fill="#8a1a3c"/>
<circle cx="410.61" cy="374.60" r="1.3" fill="#8a1a3c"/>
<circle cx="410.97" cy="375.79" r="1.3" fill="#8a1a3c"/>
<circle cx="409.64" cy="376.53" r="1.3" fill="#8a1a3c"/>
<circle cx="412.44" cy="377.96" r="1.3" fill="#8a1a3c"/>
<circle cx="411.91" cy="379.19" r="1.3" fill="#8a1a3c"/>
<circle cx="411.12" cy="380.62" r="1.3" fill="#8a1a3c"/>
<circle cx="409.43" cy="382.44" r="1.3" fill="#8a1a3c"/>
<circle cx="407.11" cy="384.65" r="1.3" fill="#8a1a3c"/>
<circle cx="412.49" cy="384.80" r="1.3" fill="#8a1a3c"/>
<circle cx="407.55" cy="386.91" r="1.3" fill="#8a1a3c"/>
<circle cx="412.68" cy="389.08" r="1.3" fill="#8a1a3c"/>
<circle cx="409.54" cy="389.08" r="1.3" fill="#8a1a3c"/>
<circle cx="408.88" cy="390.52" r="1.3" fill="#8a1a3c"/>
<circle cx="407.98" cy="392.69" r="1.3" fill="#8a1a3c"/>
<circle cx="407.31" cy="394.21" r="1.3" fill="#8a1a3c"/>
<circle cx="411.89" cy="394.77" r="1.3" fill="#8a1a3c"/>
<circle cx="449.19" cy="380.32" r="1.3" fill="#8a1a3c"/>
<circle cx="450.24" cy="382.42" r="1.3" fill="#8a1a3c"/>
<circle cx="446.28" cy="383.04" r="1.3" fill="#8a1a3c"/>
<circle cx="446.24" cy="384.39" r="1.3" fill="#8a1a3c"/>
<circle cx="445.63" cy="386.75" r="1.3" fill="#8a1a3c"/>
<circle cx="446.17" cy="387.84" r="1.3" fill="#8a1a3c"/>
<circle cx="447.56" cy="388.88" r="1.3" fill="#8a1a3c"/>
<circle cx="448.69" cy="391.17" r="1.3" fill="#8a1a3c"/>
<circle cx="446.57" cy="391.26" r="1.3" fill="#8a1a3c"/>
<circle cx="450.38" cy="392.89" r="1.3" fill="#8a1a3c"/>
<circle cx="449.96" cy="395.37" r="1.3" fill="#8a1a3c"/>
<circle cx="449.57" cy="396.81" r="1.3" fill="#8a1a3c"/>
<text x="451.7" y="323.7" font-size="6.6" text-anchor="middle" fill="#222" ><tspan font-style="italic">P</tspan> = 0.003</text>
<text x="411.5" y="413.3" font-size="6.6" text-anchor="middle" fill="#222" >≤200 mg</text>
<text x="447.8" y="413.3" font-size="6.6" text-anchor="middle" fill="#222" >≥400 mg</text>
<text x="411.5" y="420.7" font-size="6.6" text-anchor="middle" fill="#222" >(<tspan font-style="italic">n</tspan> = 33)</text>
<text x="447.8" y="420.7" font-size="6.6" text-anchor="middle" fill="#222" >(<tspan font-style="italic">n</tspan> = 22)</text>
</svg></body></html>
